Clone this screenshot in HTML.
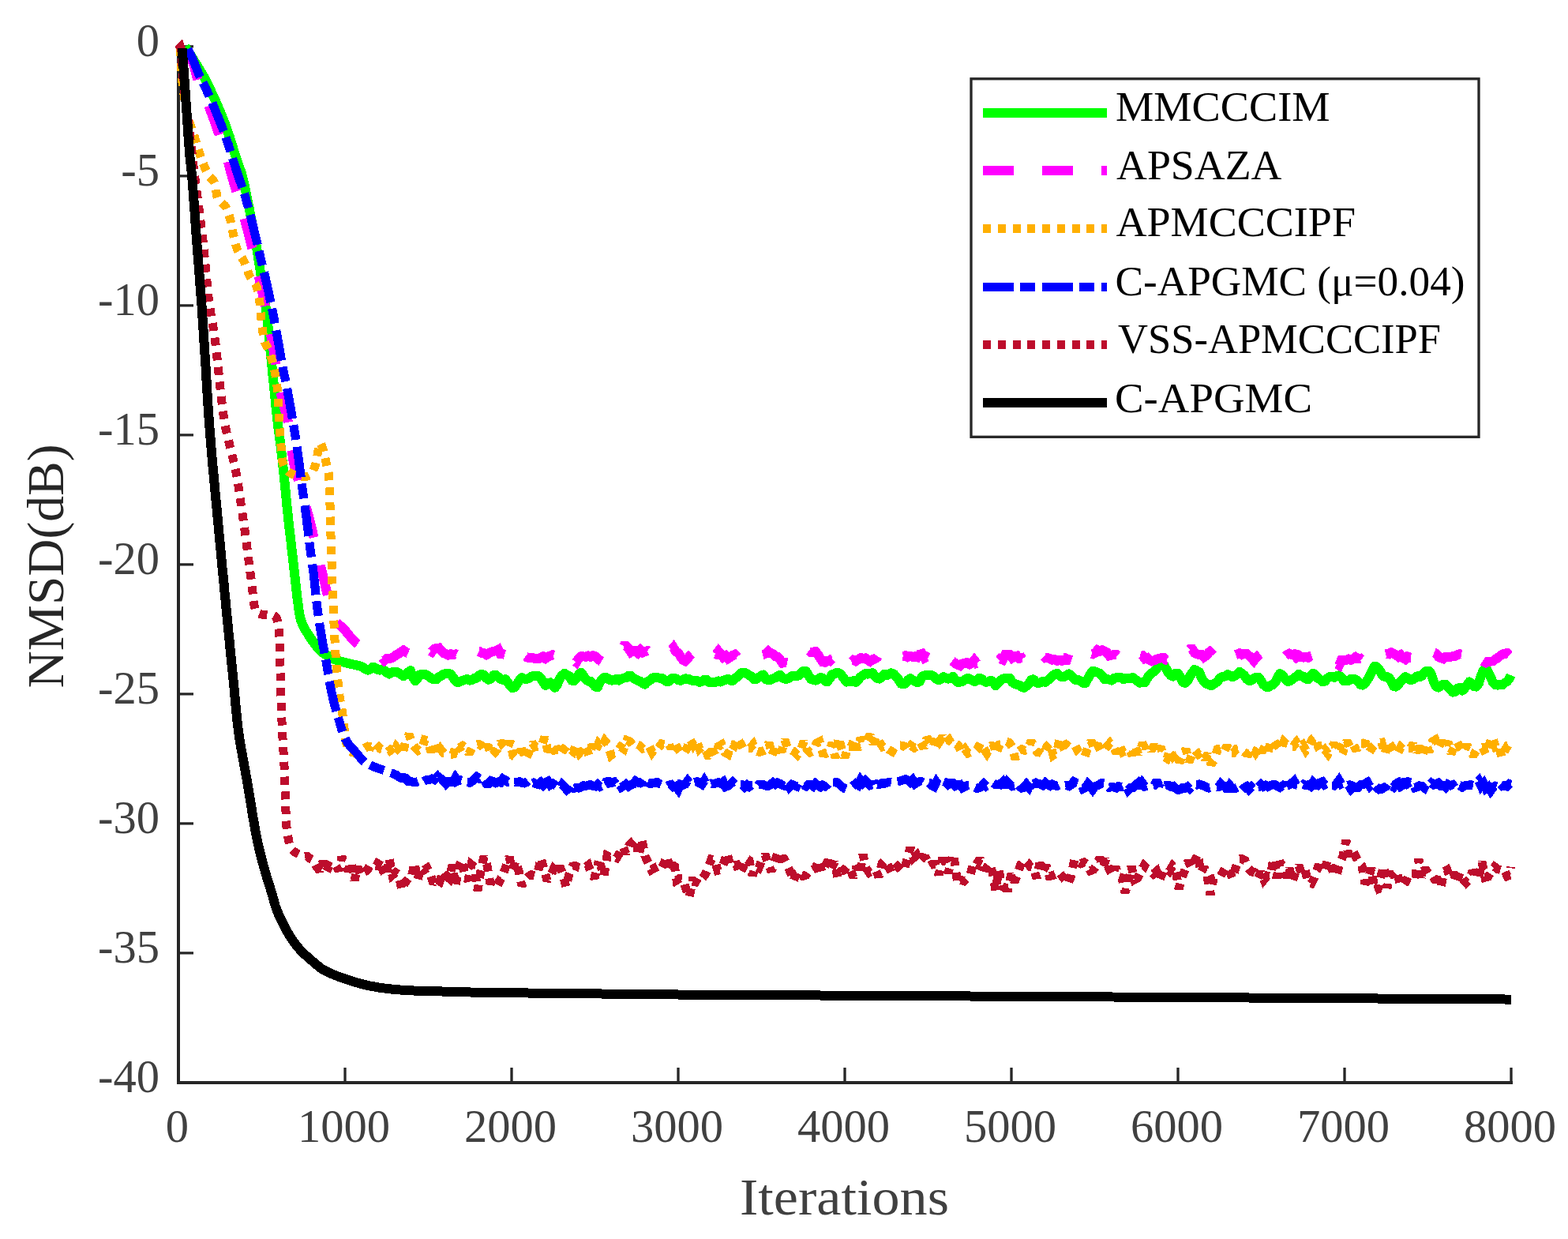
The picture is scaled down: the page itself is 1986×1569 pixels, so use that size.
<!DOCTYPE html>
<html><head><meta charset="utf-8"><title>NMSD vs Iterations</title>
<style>html,body{margin:0;padding:0;background:#fff;}svg{display:block;}</style>
</head><body>
<svg width="1986" height="1569" viewBox="0 0 1986 1569">
<rect width="1986" height="1569" fill="#fff"/>
<path d="M226 57V1371H1916" fill="none" stroke="#262626" stroke-width="4"/>
<path d="M228 58.9H245 M228 222.9H245 M228 386.9H245 M228 550.9H245 M228 714.9H245 M228 878.9H245 M228 1042.9H245 M228 1206.9H245 M228 1370.9H245 M226.0 1369V1352 M437.0 1369V1352 M648.0 1369V1352 M859.0 1369V1352 M1070.0 1369V1352 M1281.0 1369V1352 M1492.0 1369V1352 M1703.0 1369V1352 M1914.0 1369V1352" fill="none" stroke="#262626" stroke-width="3.3"/>
<path d="M234.56 59.0 235.4 60.3 236.2 61.58 237.0 62.8 237.9 64.0 238.7 65.3 239.6 66.6 240.56 68.0 241.3 69.2 242.0 70.4 242.7 71.58 243.4 72.7 244.2 74.0 245.0 75.4 245.9 76.9 247.0 78.7 247.7 79.8 248.4 81.0 249.2 82.2 250.0 83.60 250.8 84.9 251.7 86.3 252.6 87.7 253.4 89.2 254.3 90.6 255.2 92.1 256.1 93.61 256.9 95.0 257.7 96.4 258.56 97.8 259.2 99.2 260.0 100.60 260.7 101.9 261.4 103.3 262.1 104.7 262.8 106.0 263.4 107.4 264.1 108.8 264.8 110.2 265.4 111.59 266.1 112.9 266.7 114.3 267.4 115.6 268.0 117.0 268.7 118.53 269.4 119.9 270.1 121.4 270.7 122.9 271.4 124.3 272.1 125.8 272.7 127.2 273.4 128.7 274.0 130.2 274.7 131.6 275.3 133.1 276.0 134.60 276.6 136.0 277.2 137.52 277.8 138.9 278.52 140.4 279.1 141.8 279.7 143.3 280.3 144.8 280.9 146.2 281.51 147.7 282.0 149.2 282.6 150.6 283.2 152.1 283.7 153.60 284.3 155.0 284.9 156.52 285.4 157.9 285.9 159.4 286.52 160.8 287.0 162.3 287.56 163.7 288.0 165.2 288.58 166.7 289.0 168.1 289.58 169.6 290.0 171.1 290.57 172.59 291.0 174.0 291.55 175.55 292.0 177.0 292.4 178.57 292.9 180.0 293.4 181.6 293.8 183.1 294.3 184.6 294.8 186.1 295.2 187.6 295.7 189.1 296.1 190.6 296.6 192.0 297.0 193.4 297.58 195.0 298.0 196.6 298.60 198.1 299.0 199.6 299.61 201.1 300.0 202.6 300.60 204.1 301.0 205.6 301.58 207.0 302.0 208.57 302.56 210.0 303.0 211.4 303.4 212.7 303.9 213.9 304.3 215.1 304.8 216.3 305.2 217.60 305.7 218.9 306.2 220.4 306.7 222.2 307.2 224.2 307.8 226.56 308.1 227.6 308.3 228.7 308.6 229.9 308.9 231.2 309.2 232.54 309.53 233.8 309.8 235.2 310.1 236.7 310.4 238.1 310.7 239.6 311.0 241.1 311.3 242.7 311.7 244.2 312.0 245.8 312.3 247.4 312.6 249.0 313.0 250.6 313.3 252.2 313.6 253.8 313.9 255.4 314.3 257.0 314.6 258.6 314.9 260.2 315.2 261.7 315.56 263.2 315.8 264.7 316.1 266.2 316.4 267.6 316.7 269.1 317.0 270.6 317.3 272.1 317.6 273.59 317.9 275.0 318.2 276.54 318.51 278.0 318.7 279.4 319.0 280.9 319.3 282.4 319.6 283.9 319.9 285.3 320.2 286.8 320.53 288.3 320.8 289.7 321.0 291.2 321.3 292.7 321.6 294.2 321.9 295.6 322.1 297.1 322.4 298.6 322.7 300.1 322.9 301.59 323.2 303.0 323.53 304.59 323.7 306.1 324.0 307.6 324.3 309.1 324.58 310.6 324.8 312.2 325.0 313.7 325.3 315.2 325.60 316.8 325.8 318.3 326.0 319.8 326.3 321.3 326.58 322.9 326.8 324.4 327.0 325.9 327.2 327.51 327.55 329.0 327.7 330.57 328.0 332.0 328.2 333.6 328.4 335.1 328.7 336.6 328.9 338.1 329.2 339.7 329.4 341.2 329.6 342.7 329.9 344.3 330.1 345.8 330.4 347.3 330.6 348.8 330.8 350.4 331.1 351.9 331.3 353.4 331.6 354.9 331.8 356.54 332.0 358.0 332.3 359.59 332.56 361.1 332.7 362.6 333.0 364.1 333.2 365.6 333.4 367.2 333.7 368.7 333.9 370.2 334.1 371.8 334.3 373.3 334.6 374.8 334.8 376.3 335.0 377.9 335.2 379.4 335.4 380.9 335.6 382.54 335.8 384.0 336.0 385.6 336.3 387.1 336.52 388.7 336.7 390.3 336.9 391.9 337.1 393.4 337.3 395.0 337.54 396.6 337.7 398.1 337.9 399.7 338.1 401.3 338.3 402.8 338.4 404.4 338.6 405.9 338.8 407.4 339.0 408.9 339.2 410.4 339.3 411.9 339.57 413.4 339.7 414.8 339.8 416.3 340.0 417.7 340.2 419.4 340.4 421.0 340.57 422.6 340.7 424.1 340.8 425.6 341.0 427.1 341.1 428.6 341.2 430.1 341.4 431.6 341.55 433.0 341.6 434.53 341.7 435.9 341.9 437.4 342.0 438.9 342.1 440.4 342.3 441.9 342.4 443.52 342.59 445.0 342.7 446.6 342.8 448.3 343.0 450.0 343.1 451.4 343.3 452.8 343.4 454.3 343.6 455.7 343.7 457.2 343.9 458.7 344.0 460.2 344.2 461.7 344.3 463.3 344.53 464.8 344.6 466.4 344.8 467.9 344.9 469.58 345.1 471.1 345.3 472.7 345.4 474.3 345.6 475.9 345.7 477.4 345.9 479.0 346.1 480.6 346.2 482.2 346.4 483.8 346.59 485.3 346.7 486.9 346.8 488.52 347.0 490.0 347.2 491.60 347.3 493.1 347.52 494.6 347.6 496.2 347.8 497.8 347.9 499.3 348.1 500.9 348.2 502.53 348.4 504.0 348.58 505.6 348.7 507.2 348.8 508.7 349.0 510.3 349.1 511.9 349.3 513.4 349.4 515.0 349.6 516.58 349.7 518.1 349.9 519.6 350.0 521.1 350.2 522.6 350.4 524.1 350.58 525.6 350.7 527.1 350.8 528.6 351.0 530.0 351.2 531.6 351.4 533.2 351.6 534.8 351.8 536.4 352.0 537.9 352.2 539.52 352.3 541.0 352.61 542.56 352.7 544.0 352.9 545.57 353.1 547.0 353.4 548.55 353.6 550.0 353.8 551.52 354.0 552.9 354.2 554.4 354.3 555.9 354.61 557.4 354.7 558.9 354.9 560.4 355.1 561.9 355.3 563.52 355.56 565.0 355.7 566.53 355.8 567.9 356.0 569.4 356.2 570.8 356.3 572.2 356.57 573.6 356.7 575.0 356.8 576.4 357.0 577.8 357.2 579.2 357.3 580.6 357.53 582.1 357.6 583.56 357.8 585.0 357.9 586.4 358.1 587.9 358.3 589.4 358.4 591.0 358.6 592.6 358.8 594.2 359.0 595.8 359.1 597.57 359.3 599.2 359.56 601.0 359.6 602.3 359.8 603.6 359.9 605.0 360.0 606.4 360.2 607.7 360.3 609.1 360.53 610.6 360.6 612.0 360.8 613.4 360.9 614.9 361.0 616.4 361.2 617.9 361.3 619.4 361.53 620.9 361.6 622.4 361.8 623.9 361.9 625.52 362.1 627.0 362.2 628.6 362.4 630.1 362.59 631.7 362.7 633.3 362.8 634.9 363.0 636.54 363.2 638.1 363.3 639.7 363.55 641.3 363.7 642.9 363.8 644.58 364.0 646.1 364.2 647.8 364.3 649.4 364.56 651.0 364.7 652.4 364.8 653.8 365.0 655.3 365.1 656.7 365.3 658.2 365.4 659.6 365.6 661.1 365.8 662.60 365.9 664.0 366.1 665.56 366.3 667.0 366.4 668.54 366.6 670.0 366.8 671.55 367.0 673.0 367.1 674.57 367.3 676.0 367.54 677.60 367.7 679.1 367.8 680.6 368.0 682.1 368.2 683.6 368.4 685.2 368.60 686.7 368.7 688.2 368.9 689.8 369.1 691.3 369.3 692.8 369.4 694.4 369.6 695.9 369.8 697.4 370.0 698.9 370.1 700.4 370.3 702.0 370.54 703.54 370.7 705.0 370.8 706.56 371.0 708.0 371.2 709.57 371.3 711.0 371.58 712.6 371.7 714.2 371.9 715.8 372.0 717.4 372.2 719.0 372.4 720.6 372.6 722.2 372.8 723.9 372.9 725.57 373.1 727.2 373.3 728.8 373.54 730.52 373.7 732.1 373.8 733.7 374.0 735.4 374.2 737.0 374.4 738.6 374.6 740.2 374.7 741.8 374.9 743.4 375.1 745.0 375.3 746.56 375.4 748.0 375.6 749.57 375.8 751.0 375.9 752.4 376.1 753.8 376.3 755.2 376.4 756.6 376.6 757.9 376.7 759.2 376.9 760.4 377.1 761.6 377.2 762.8 377.4 763.9 377.56 765.0 377.8 767.59 378.2 769.8 378.4 771.9 378.7 773.7 378.9 775.4 379.2 776.9 379.4 778.3 379.7 779.6 379.9 780.8 380.2 782.0 380.52 783.1 380.8 784.3 381.1 785.4 381.60 786.7 382.0 788.0 382.6 789.6 383.2 791.1 383.9 792.58 384.6 793.9 385.3 795.3 386.1 796.7 386.9 798.0 387.7 799.4 388.6 800.7 389.4 802.0 390.3 803.3 391.1 804.7 392.0 806.0 392.8 807.3 393.7 808.6 394.61 809.9 395.4 811.2 396.4 812.57 397.3 813.8 398.2 815.1 399.1 816.4 400.1 817.6 401.0 818.8 401.9 820.0 402.8 821.1 403.7 822.1 404.6 823.0 405.9 824.3 407.2 825.4 408.4 826.4 409.6 827.3 410.9 828.1 412.1 828.8 413.4 829.59 414.7 830.2 416.0 831.0 417.3 831.8 418.6 832.53 419.9 833.1 421.2 833.8 422.6 834.4 424.0 835.1 425.6 835.7 427.4 836.3 429.4 837.0 430.6 837.4 431.9 837.8 433.3 838.1 434.8 838.56 436.3 838.9 437.8 839.2 439.4 839.6 441.0 840.0 442.6 840.4 444.3 840.8 445.9 841.1 447.6 841.56 449.2 841.9 450.8 842.2 452.4 842.6 454.0 843.0 457.0 843.7 460.0 845.2 463.0 847.4 466.0 848.61 469.0 847.61 472.0 844.6 475.0 845.4 478.0 847.8 481.0 848.57 484.0 847.58 487.0 849.1 490.0 851.7 493.0 853.57 496.0 851.52 499.0 850.8 502.0 850.9 505.0 852.2 508.0 854.0 511.0 856.3 514.0 853.8 517.0 851.1 520.0 849.1 523.0 857.8 526.0 862.2 529.0 858.56 532.0 854.2 535.0 854.0 538.0 853.56 541.0 855.2 544.0 857.1 547.0 859.59 550.0 860.4 553.0 860.2 556.0 857.0 559.0 855.7 562.0 853.55 565.0 853.1 568.0 853.1 571.0 853.57 574.0 858.0 577.0 862.4 580.0 864.3 583.0 862.9 586.0 861.9 589.0 860.52 592.0 860.2 595.0 861.6 598.0 860.7 601.0 858.8 604.0 858.7 607.0 855.0 610.0 853.8 613.0 854.8 616.0 858.9 619.0 860.7 622.0 859.4 625.0 855.2 628.0 854.7 631.0 857.4 634.0 860.0 637.0 860.8 640.0 860.2 643.0 863.7 646.0 868.4 649.0 871.2 652.0 870.3 655.0 865.9 658.0 861.2 661.0 858.2 664.0 859.58 667.0 860.0 670.0 858.7 673.0 856.8 676.0 856.0 679.0 855.7 682.0 856.0 685.0 858.9 688.0 863.55 691.0 868.1 694.0 866.2 697.0 864.4 700.0 868.1 703.0 870.8 706.0 866.7 709.0 859.0 712.0 855.2 715.0 852.9 718.0 854.52 721.0 856.3 724.0 861.7 727.0 862.2 730.0 859.3 733.0 854.3 736.0 851.6 739.0 855.8 742.0 860.1 745.0 862.6 748.0 862.8 751.0 866.4 754.0 869.56 757.0 870.3 760.0 863.7 763.0 859.7 766.0 857.7 769.0 858.6 772.0 860.9 775.0 861.57 778.0 861.0 781.0 859.9 784.0 861.6 787.0 859.9 790.0 858.6 793.0 858.2 796.0 855.8 799.0 855.9 802.0 858.57 805.0 860.2 808.0 861.9 811.0 862.8 814.0 865.3 817.0 866.59 820.0 863.3 823.0 861.58 826.0 858.8 829.0 857.9 832.0 858.0 835.0 858.6 838.0 858.6 841.0 860.7 844.0 862.9 847.0 862.9 850.0 859.7 853.0 858.54 856.0 859.4 859.0 861.1 862.0 861.8 865.0 860.6 868.0 859.4 871.0 859.6 874.0 860.7 877.0 861.9 880.0 862.2 883.0 862.2 886.0 864.0 889.0 862.8 892.0 860.7 895.0 860.8 898.0 863.8 901.0 863.6 904.0 863.7 907.0 863.6 910.0 862.4 913.0 863.55 916.0 861.9 919.0 860.7 922.0 859.9 925.0 861.53 928.0 862.0 931.0 858.9 934.0 857.6 937.0 853.6 940.0 851.8 943.0 851.7 946.0 853.0 949.0 855.1 952.0 857.0 955.0 860.1 958.0 859.8 961.0 857.8 964.0 855.7 967.0 854.6 970.0 860.1 973.0 861.4 976.0 860.9 979.0 859.4 982.0 858.2 985.0 856.2 988.0 854.8 991.0 858.60 994.0 859.6 997.0 859.6 1000.0 858.2 1003.0 856.0 1006.0 856.1 1009.0 856.2 1012.0 855.3 1015.0 851.6 1018.0 849.6 1021.0 850.2 1024.0 855.0 1027.0 859.9 1030.0 860.8 1033.0 861.57 1036.0 860.1 1039.0 858.0 1042.0 858.59 1045.0 862.6 1048.0 863.1 1051.0 859.2 1054.0 853.9 1057.0 853.4 1060.0 851.8 1063.0 852.3 1066.0 855.3 1069.0 859.1 1072.0 863.6 1075.0 863.3 1078.0 863.4 1081.0 862.3 1084.0 863.9 1087.0 861.0 1090.0 857.2 1093.0 855.1 1096.0 853.2 1099.0 853.6 1102.0 853.1 1105.0 852.1 1108.0 856.3 1111.0 858.8 1114.0 859.6 1117.0 857.2 1120.0 853.8 1123.0 855.4 1126.0 853.7 1129.0 852.3 1132.0 853.4 1135.0 856.9 1138.0 860.2 1141.0 865.7 1144.0 866.4 1147.0 865.6 1150.0 861.2 1153.0 859.0 1156.0 861.3 1159.0 862.7 1162.0 864.3 1165.0 862.8 1168.0 856.7 1171.0 855.4 1174.0 855.2 1177.0 855.0 1180.0 855.1 1183.0 857.0 1186.0 860.0 1189.0 861.3 1192.0 859.7 1195.0 857.2 1198.0 858.6 1201.0 859.7 1204.0 858.8 1207.0 856.8 1210.0 861.3 1213.0 864.0 1216.0 863.6 1219.0 862.7 1222.0 860.8 1225.0 859.1 1228.0 859.4 1231.0 861.3 1234.0 863.1 1237.0 862.1 1240.0 858.8 1243.0 859.4 1246.0 862.6 1249.0 863.9 1252.0 863.1 1255.0 861.7 1258.0 863.6 1261.0 868.2 1264.0 865.56 1267.0 862.3 1270.0 859.60 1273.0 859.1 1276.0 858.58 1279.0 858.7 1282.0 863.9 1285.0 865.7 1288.0 867.0 1291.0 867.54 1294.0 870.0 1297.0 871.0 1300.0 868.9 1303.0 866.1 1306.0 861.1 1309.0 860.3 1312.0 863.59 1315.0 865.4 1318.0 864.3 1321.0 862.6 1324.0 863.9 1327.0 861.6 1330.0 859.4 1333.0 855.8 1336.0 853.9 1339.0 852.9 1342.0 855.4 1345.0 857.4 1348.0 856.8 1351.0 855.1 1354.0 853.4 1357.0 856.2 1360.0 859.2 1363.0 861.4 1366.0 861.0 1369.0 862.6 1372.0 865.0 1375.0 865.0 1378.0 859.1 1381.0 853.6 1384.0 849.6 1387.0 850.6 1390.0 851.6 1393.0 852.9 1396.0 855.6 1399.0 860.4 1402.0 860.2 1405.0 860.61 1408.0 861.6 1411.0 858.9 1414.0 858.2 1417.0 858.3 1420.0 858.1 1423.0 860.2 1426.0 859.1 1429.0 858.56 1432.0 858.55 1435.0 858.1 1438.0 860.55 1441.0 862.9 1444.0 864.7 1447.0 863.6 1450.0 864.3 1453.0 859.0 1456.0 854.53 1459.0 852.2 1462.0 850.3 1465.0 846.6 1468.0 842.2 1471.0 840.1 1474.0 841.51 1477.0 846.8 1480.0 852.2 1483.0 855.6 1486.0 856.59 1489.0 852.7 1492.0 852.8 1495.0 857.0 1498.0 863.7 1501.0 864.9 1504.0 862.4 1507.0 856.6 1510.0 851.9 1513.0 848.0 1516.0 849.4 1519.0 851.2 1522.0 858.7 1525.0 863.4 1528.0 865.9 1531.0 866.6 1534.0 868.4 1537.0 866.4 1540.0 864.6 1543.0 861.6 1546.0 858.2 1549.0 856.8 1552.0 856.4 1555.0 854.3 1558.0 855.7 1561.0 857.3 1564.0 856.0 1567.0 853.9 1570.0 850.8 1573.0 853.0 1576.0 855.1 1579.0 859.7 1582.0 861.8 1585.0 861.6 1588.0 859.0 1591.0 857.6 1594.0 857.7 1597.0 861.54 1600.0 866.7 1603.0 869.3 1606.0 870.4 1609.0 868.3 1612.0 867.3 1615.0 864.4 1618.0 858.0 1621.0 853.3 1624.0 854.7 1627.0 858.61 1630.0 862.6 1633.0 862.7 1636.0 861.0 1639.0 858.6 1642.0 856.6 1645.0 853.7 1648.0 856.2 1651.0 856.9 1654.0 859.53 1657.0 860.3 1660.0 856.1 1663.0 852.6 1666.0 854.6 1669.0 858.9 1672.0 860.4 1675.0 863.1 1678.0 862.8 1681.0 859.3 1684.0 857.2 1687.0 857.0 1690.0 857.9 1693.0 856.0 1696.0 855.4 1699.0 857.7 1702.0 862.4 1705.0 862.1 1708.0 862.1 1711.0 859.7 1714.0 860.2 1717.0 860.4 1720.0 863.0 1723.0 866.7 1726.0 867.59 1729.0 865.4 1732.0 860.9 1735.0 855.9 1738.0 849.4 1741.0 843.7 1744.0 844.60 1747.0 848.0 1750.0 853.60 1753.0 856.8 1756.0 856.9 1759.0 857.9 1762.0 862.53 1765.0 868.9 1768.0 869.6 1771.0 867.0 1774.0 862.6 1777.0 859.6 1780.0 857.2 1783.0 858.59 1786.0 860.8 1789.0 860.7 1792.0 858.9 1795.0 856.3 1798.0 857.1 1801.0 855.7 1804.0 851.6 1807.0 849.8 1810.0 849.6 1813.0 854.0 1816.0 863.2 1819.0 869.3 1822.0 870.6 1825.0 868.3 1828.0 866.9 1831.0 866.9 1834.0 870.3 1837.0 873.2 1840.0 876.6 1843.0 875.8 1846.0 871.7 1849.0 871.0 1852.0 874.6 1855.0 871.6 1858.0 868.1 1861.0 863.4 1864.0 865.9 1867.0 869.3 1870.0 869.6 1873.0 865.2 1876.0 855.4 1879.0 848.6 1882.0 846.0 1885.0 851.2 1888.0 857.1 1891.0 864.4 1894.0 867.3 1897.0 867.6 1900.0 866.59 1903.0 867.3 1906.0 864.58 1909.0 862.9 1912.0 858.8 1913.56 855.0" fill="none" stroke="#00ff00" stroke-width="12" stroke-linejoin="round" shape-rendering="crispEdges"/>
<path d="M238.0 64.0 238.6 65.4 239.2 66.8 239.8 68.2 240.56 70.0 241.0 71.1 241.56 72.2 242.0 73.4 242.6 74.7 243.2 76.2 243.9 77.9 244.6 80.0 245.0 81.2 245.4 82.58 245.8 84.0 246.2 85.54 246.6 87.1 247.1 88.7 247.57 90.4 248.0 92.1 248.4 93.8 248.9 95.53 249.3 97.1 249.8 98.7 250.3 100.2 250.7 101.6 251.3 103.3 251.8 104.9 252.4 106.4 252.9 107.9 253.53 109.4 254.0 110.8 254.6 112.2 255.2 113.6 255.8 115.1 256.4 116.57 257.0 118.0 257.6 119.3 258.1 120.6 258.7 121.8 259.3 122.9 259.8 124.1 260.4 125.3 261.1 126.6 261.7 127.9 262.4 129.4 263.1 131.1 263.9 132.9 264.7 135.0 265.1 136.1 265.6 137.3 266.0 138.56 266.59 139.8 267.0 141.2 267.6 142.6 268.1 144.0 268.6 145.61 269.2 147.1 269.7 148.6 270.3 150.2 270.9 151.8 271.51 153.4 272.0 155.0 272.6 156.6 273.1 158.1 273.7 159.7 274.2 161.2 274.8 162.7 275.3 164.1 275.8 165.58 276.3 166.9 276.7 168.1 277.2 169.4 277.6 170.56 278.3 172.55 279.0 174.3 279.7 175.9 280.3 177.3 280.8 178.7 281.3 179.9 281.9 181.2 282.4 182.4 282.9 183.7 283.4 185.1 283.9 186.60 284.4 188.2 285.0 190.0 285.4 191.2 285.7 192.3 286.0 193.4 286.3 194.59 286.6 195.6 286.9 196.7 287.1 197.8 287.4 199.0 287.7 200.2 288.0 201.4 288.3 202.7 288.6 204.0 289.0 205.4 289.3 206.9 289.7 208.60 290.2 210.2 290.7 212.1 291.2 214.0 291.7 216.1 292.3 218.3 293.0 220.7 293.3 221.8 293.6 222.8 293.9 223.9 294.3 225.1 294.6 226.3 294.9 227.53 295.3 228.7 295.7 230.0 296.0 231.2 296.4 232.6 296.8 233.9 297.2 235.2 297.6 236.6 298.0 238.0 298.52 239.4 298.9 240.9 299.3 242.3 299.8 243.8 300.2 245.3 300.6 246.8 301.1 248.3 301.60 249.8 302.0 251.3 302.52 252.9 302.9 254.4 303.4 256.0 303.8 257.6 304.3 259.1 304.8 260.7 305.2 262.3 305.7 263.9 306.2 265.55 306.6 267.1 307.1 268.7 307.6 270.3 308.0 271.9 308.54 273.51 308.9 275.0 309.4 276.6 309.8 278.2 310.3 279.8 310.7 281.3 311.1 282.9 311.6 284.4 312.0 285.9 312.4 287.52 312.8 289.0 313.2 290.52 313.6 291.9 314.0 293.4 314.4 294.9 314.8 296.4 315.2 297.9 315.6 299.3 315.9 300.8 316.3 302.3 316.7 303.8 317.1 305.3 317.52 306.8 317.8 308.3 318.2 309.8 318.6 311.3 319.0 312.8 319.3 314.3 319.7 315.8 320.1 317.3 320.4 318.8 320.8 320.3 321.2 321.8 321.58 323.3 321.9 324.8 322.2 326.3 322.6 327.8 322.9 329.3 323.3 330.8 323.7 332.3 324.0 333.8 324.4 335.3 324.7 336.8 325.0 338.3 325.4 339.7 325.7 341.2 326.1 342.7 326.4 344.2 326.7 345.7 327.1 347.1 327.4 348.6 327.8 350.1 328.1 351.61 328.4 353.0 328.7 354.53 329.1 355.9 329.4 357.4 329.7 358.8 330.0 360.3 330.4 361.7 330.7 363.1 331.0 364.6 331.3 366.0 331.6 367.61 332.0 369.1 332.3 370.6 332.6 372.2 333.0 373.7 333.3 375.3 333.6 376.8 334.0 378.3 334.3 379.8 334.6 381.4 334.9 382.9 335.2 384.4 335.61 385.9 335.9 387.4 336.2 388.9 336.54 390.4 336.8 391.9 337.1 393.4 337.4 394.9 337.7 396.4 338.0 397.9 338.3 399.4 338.6 400.9 338.9 402.4 339.2 403.9 339.52 405.4 339.8 406.8 340.0 408.3 340.3 409.8 340.6 411.2 340.9 412.7 341.2 414.2 341.51 415.6 341.7 417.1 342.0 418.6 342.3 420.0 342.6 421.52 342.8 422.9 343.1 424.4 343.4 425.8 343.6 427.2 343.9 428.7 344.2 430.1 344.4 431.6 344.7 433.0 345.0 434.6 345.3 436.2 345.61 437.7 345.8 439.3 346.1 440.9 346.4 442.56 346.6 444.1 346.9 445.7 347.2 447.3 347.4 448.9 347.7 450.4 347.9 452.0 348.2 453.6 348.4 455.2 348.7 456.8 348.9 458.3 349.2 459.9 349.4 461.54 349.6 463.0 349.9 464.6 350.1 466.1 350.4 467.7 350.6 469.2 350.8 470.8 351.1 472.3 351.3 473.8 351.6 475.3 351.8 476.8 352.0 478.2 352.3 479.7 352.57 481.2 352.8 482.6 353.0 484.1 353.2 485.53 353.54 486.9 353.7 488.3 354.0 489.6 354.2 491.0 354.55 492.4 354.7 493.7 355.0 495.0 355.4 496.8 355.7 498.55 356.1 500.2 356.53 501.8 356.9 503.53 357.2 505.1 357.6 506.6 358.0 508.2 358.4 509.7 358.8 511.2 359.2 512.7 359.6 514.2 360.0 515.6 360.4 517.1 360.8 518.56 361.2 519.9 361.60 521.3 361.9 522.7 362.3 524.2 362.7 525.6 363.0 527.0 363.4 528.4 363.8 529.8 364.1 531.2 364.4 532.6 364.8 534.1 365.1 535.60 365.4 537.0 365.7 538.55 366.0 540.0 366.3 541.58 366.59 543.1 366.8 544.6 367.0 546.1 367.2 547.7 367.4 549.2 367.6 550.8 367.8 552.4 368.0 553.9 368.2 555.58 368.4 557.1 368.58 558.7 368.7 560.2 368.8 561.8 369.0 563.4 369.2 564.9 369.3 566.56 369.54 568.1 369.6 569.6 369.8 571.1 370.0 572.7 370.2 574.2 370.4 575.7 370.6 577.2 370.8 578.7 371.0 580.2 371.2 581.7 371.53 583.1 371.7 584.6 372.0 586.0 372.3 587.6 372.7 589.1 373.0 590.7 373.4 592.2 373.7 593.7 374.1 595.2 374.58 596.7 374.9 598.1 375.3 599.6 375.8 601.0 376.2 602.55 376.6 603.9 377.0 605.4 377.53 606.8 377.9 608.2 378.3 609.6 378.8 611.0 379.2 612.4 379.7 613.8 380.1 615.2 380.59 616.6 381.0 618.0 381.4 619.4 381.8 620.8 382.2 622.2 382.6 623.6 383.0 625.0 383.4 626.55 383.8 627.9 384.2 629.3 384.6 630.7 385.0 632.0 385.3 633.3 385.7 634.6 386.0 635.9 386.4 637.1 386.8 638.4 387.1 639.7 387.54 641.0 387.8 642.3 388.2 643.6 388.6 645.0 389.0 646.4 389.4 647.9 389.8 649.4 390.2 650.9 390.6 652.6 391.0 654.3 391.56 656.1 392.0 658.0 392.54 659.9 393.0 662.0 393.3 663.1 393.6 664.3 393.9 665.61 394.2 666.8 394.56 668.1 394.8 669.4 395.1 670.7 395.54 672.1 395.8 673.57 396.2 674.9 396.56 676.4 396.8 677.8 397.2 679.3 397.6 680.8 397.9 682.3 398.3 683.9 398.7 685.4 399.0 687.0 399.4 688.6 399.8 690.2 400.1 691.7 400.59 693.3 400.9 694.9 401.3 696.6 401.7 698.2 402.0 699.8 402.4 701.4 402.8 703.0 403.2 704.6 403.6 706.2 403.9 707.8 404.3 709.3 404.7 710.9 405.0 712.54 405.4 714.0 405.8 715.6 406.1 717.1 406.55 718.6 406.8 720.0 407.2 721.56 407.60 722.9 407.9 724.3 408.2 725.7 408.61 727.1 408.9 728.4 409.2 729.7 409.56 731.0 409.9 732.8 410.4 734.6 410.8 736.3 411.2 738.1 411.6 739.8 412.0 741.6 412.4 743.3 412.8 745.0 413.2 746.7 413.59 748.3 413.9 750.0 414.3 751.6 414.6 753.3 415.0 754.9 415.4 756.4 415.7 758.0 416.1 759.57 416.4 761.0 416.8 762.56 417.2 764.0 417.57 765.4 417.9 766.8 418.2 768.1 418.6 769.55 419.0 770.8 419.3 772.1 419.7 773.3 420.1 774.58 420.4 775.7 420.8 776.8 421.2 777.9 421.6 779.0 422.0 780.0 423.0 782.2 423.9 784.1 424.9 785.8 425.9 787.2 426.9 788.57 427.9 789.6 429.0 790.6 430.0 791.59 431.0 792.4 432.0 793.2 433.0 794.1 434.0 795.0 435.0 795.9 436.0 797.0 437.0 798.2 438.1 799.55 439.1 800.7 440.1 802.0 441.2 803.2 442.2 804.52 443.2 805.7 444.2 806.8 445.2 808.0 446.2 809.1 447.1 810.1 448.1 811.1 449.0 812.0 450.3 813.2 451.6 814.3 452.8 815.3 454.0 816.1 455.2 817.0 456.3 817.7 457.59 818.55 458.7 819.2 460.0 820.0 461.51 820.8 462.9 821.6 464.4 822.4 465.9 823.1 467.52 823.8 469.0 824.61 470.55 825.3 472.0 826.0 475.0 826.8 478.0 828.9 481.0 830.9 484.0 832.6 487.0 836.3 490.0 833.9 493.0 834.0 496.0 833.1 499.0 831.6 502.0 829.0 505.0 827.7 508.0 825.6 511.0 823.6 514.0 825.8 517.0 827.1 520.0 828.7 523.0 830.3 526.0 829.1 529.0 830.1 532.0 828.9 535.0 823.7 538.0 827.2 541.0 826.7 544.0 823.53 547.0 825.4 550.0 821.9 553.0 820.8 556.0 820.52 559.0 824.4 562.0 827.2 565.0 828.1 568.0 829.57 571.0 828.3 574.0 828.8 577.0 828.4 580.0 829.8 583.0 827.8 586.0 827.1 589.0 825.6 592.0 824.1 595.0 825.4 598.0 827.6 601.0 821.53 604.0 824.6 607.0 825.0 610.0 826.9 613.0 827.1 616.0 829.1 619.0 827.59 622.0 825.57 625.0 824.9 628.0 824.2 631.0 822.60 634.0 828.3 637.0 828.3 640.0 829.2 643.0 831.7 646.0 829.6 649.0 825.6 652.0 827.3 655.0 822.7 658.0 824.7 661.0 826.51 664.0 830.2 667.0 832.3 670.0 833.0 673.0 833.0 676.0 833.4 679.0 834.4 682.0 834.3 685.0 832.52 688.0 831.3 691.0 833.8 694.0 831.7 697.0 830.52 700.0 829.3 703.0 830.4 706.0 831.3 709.0 833.6 712.0 834.0 715.0 831.9 718.0 827.9 721.0 830.1 724.0 834.7 727.0 835.9 730.0 838.59 733.0 833.7 736.0 831.3 739.0 831.4 742.0 831.7 745.0 830.59 748.0 831.7 751.0 830.1 754.0 831.1 757.0 833.8 760.0 828.7 763.0 829.3 766.0 826.8 769.0 825.60 772.0 825.4 775.0 825.4 778.0 822.59 781.0 824.1 784.0 823.59 787.0 823.0 790.0 817.9 793.0 818.1 796.0 820.8 799.0 825.7 802.0 823.7 805.0 824.1 808.0 826.8 811.0 823.3 814.0 826.4 817.0 825.3 820.0 824.2 823.0 826.7 826.0 826.9 829.0 829.0 832.0 828.8 835.0 828.57 838.0 824.1 841.0 822.7 844.0 821.8 847.0 822.7 850.0 823.8 853.0 820.2 856.0 825.1 859.0 826.7 862.0 831.6 865.0 835.59 868.0 837.2 871.0 834.2 874.0 829.58 877.0 826.7 880.0 823.9 883.0 822.4 886.0 822.7 889.0 824.1 892.0 825.0 895.0 827.8 898.0 828.4 901.0 830.8 904.0 827.57 907.0 828.6 910.0 824.6 913.0 827.9 916.0 832.4 919.0 830.6 922.0 834.1 925.0 832.3 928.0 829.8 931.0 828.7 934.0 831.59 937.0 835.0 940.0 835.9 943.0 833.8 946.0 832.9 949.0 832.1 952.0 833.0 955.0 831.3 958.0 831.1 961.0 831.9 964.0 829.51 967.0 828.8 970.0 827.6 973.0 824.6 976.0 827.3 979.0 828.3 982.0 831.4 985.0 831.7 988.0 835.3 991.0 839.54 994.0 838.9 997.0 839.51 1000.0 835.8 1003.0 836.9 1006.0 835.57 1009.0 836.0 1012.0 833.6 1015.0 833.3 1018.0 831.6 1021.0 828.4 1024.0 823.3 1027.0 826.0 1030.0 825.6 1033.0 825.2 1036.0 828.6 1039.0 834.0 1042.0 838.3 1045.0 838.7 1048.0 836.8 1051.0 837.4 1054.0 834.4 1057.0 833.9 1060.0 826.3 1063.0 830.8 1066.0 832.3 1069.0 834.3 1072.0 838.9 1075.0 837.6 1078.0 838.2 1081.0 835.9 1084.0 837.2 1087.0 835.2 1090.0 833.1 1093.0 833.7 1096.0 833.4 1099.0 836.0 1102.0 837.56 1105.0 835.3 1108.0 834.4 1111.0 832.52 1114.0 827.1 1117.0 827.1 1120.0 826.0 1123.0 827.6 1126.0 829.0 1129.0 829.4 1132.0 831.4 1135.0 831.0 1138.0 831.4 1141.0 830.6 1144.0 831.0 1147.0 830.2 1150.0 832.0 1153.0 830.8 1156.0 831.9 1159.0 831.3 1162.0 832.3 1165.0 828.6 1168.0 827.8 1171.0 833.2 1174.0 831.7 1177.0 833.1 1180.0 833.4 1183.0 834.2 1186.0 839.2 1189.0 839.61 1192.0 837.54 1195.0 836.2 1198.0 833.60 1201.0 834.9 1204.0 835.6 1207.0 837.8 1210.0 840.1 1213.0 841.8 1216.0 843.0 1219.0 840.4 1222.0 839.7 1225.0 839.1 1228.0 841.2 1231.0 839.9 1234.0 836.1 1237.0 840.0 1240.0 839.2 1243.0 837.9 1246.0 837.1 1249.0 834.52 1252.0 830.0 1255.0 833.8 1258.0 834.4 1261.0 835.9 1264.0 837.9 1267.0 834.4 1270.0 835.57 1273.0 829.2 1276.0 829.1 1279.0 829.1 1282.0 833.1 1285.0 831.0 1288.0 830.53 1291.0 833.9 1294.0 833.2 1297.0 837.8 1300.0 835.7 1303.0 834.9 1306.0 835.9 1309.0 832.7 1312.0 832.9 1315.0 829.4 1318.0 833.2 1321.0 830.4 1324.0 833.4 1327.0 833.2 1330.0 834.0 1333.0 835.6 1336.0 835.3 1339.0 836.8 1342.0 835.8 1345.0 836.7 1348.0 835.4 1351.0 835.6 1354.0 826.9 1357.0 827.1 1360.0 824.9 1363.0 827.1 1366.0 828.3 1369.0 832.1 1372.0 829.6 1375.0 829.3 1378.0 829.9 1381.0 827.3 1384.0 828.3 1387.0 827.0 1390.0 823.3 1393.0 824.7 1396.0 823.1 1399.0 824.7 1402.0 826.1 1405.0 830.4 1408.0 829.6 1411.0 829.1 1414.0 828.9 1417.0 831.4 1420.0 827.9 1423.0 830.3 1426.0 831.1 1429.0 828.6 1432.0 830.9 1435.0 832.2 1438.0 830.1 1441.0 827.4 1444.0 829.1 1447.0 830.0 1450.0 834.1 1453.0 833.1 1456.0 835.8 1459.0 837.2 1462.0 836.1 1465.0 834.8 1468.0 833.7 1471.0 833.3 1474.0 833.2 1477.0 835.7 1480.0 835.0 1483.0 835.0 1486.0 835.1 1489.0 836.60 1492.0 837.4 1495.0 834.1 1498.0 832.8 1501.0 829.3 1504.0 825.2 1507.0 822.1 1510.0 821.9 1513.0 826.7 1516.0 828.2 1519.0 829.2 1522.0 829.0 1525.0 832.3 1528.0 830.3 1531.0 826.3 1534.0 824.2 1537.0 821.1 1540.0 825.4 1543.0 824.2 1546.0 829.1 1549.0 830.3 1552.0 830.0 1555.0 832.1 1558.0 829.4 1561.0 829.9 1564.0 829.51 1567.0 828.4 1570.0 827.3 1573.0 829.0 1576.0 827.7 1579.0 828.0 1582.0 830.4 1585.0 833.1 1588.0 836.60 1591.0 832.52 1594.0 830.1 1597.0 827.8 1600.0 827.0 1603.0 825.7 1606.0 828.2 1609.0 828.2 1612.0 828.1 1615.0 829.4 1618.0 832.7 1621.0 833.4 1624.0 831.8 1627.0 831.9 1630.0 829.3 1633.0 827.6 1636.0 828.8 1639.0 828.4 1642.0 832.3 1645.0 829.9 1648.0 832.1 1651.0 832.6 1654.0 831.8 1657.0 832.9 1660.0 830.8 1663.0 829.9 1666.0 831.1 1669.0 831.1 1672.0 834.4 1675.0 835.3 1678.0 837.7 1681.0 839.2 1684.0 840.9 1687.0 842.0 1690.0 841.7 1693.0 840.8 1696.0 842.6 1699.0 835.7 1702.0 835.8 1705.0 836.0 1708.0 834.7 1711.0 835.9 1714.0 834.52 1717.0 832.1 1720.0 834.2 1723.0 833.7 1726.0 836.1 1729.0 834.1 1732.0 828.9 1735.0 828.8 1738.0 827.7 1741.0 827.2 1744.0 829.58 1747.0 828.6 1750.0 829.3 1753.0 828.8 1756.0 828.1 1759.0 828.4 1762.0 826.3 1765.0 827.57 1768.0 829.1 1771.0 831.6 1774.0 829.55 1777.0 833.3 1780.0 835.0 1783.0 831.6 1786.0 832.7 1789.0 832.9 1792.0 828.3 1795.0 828.9 1798.0 827.6 1801.0 825.7 1804.0 822.3 1807.0 823.7 1810.0 822.4 1813.0 825.2 1816.0 826.52 1819.0 827.7 1822.0 831.7 1825.0 833.2 1828.0 834.1 1831.0 831.7 1834.0 831.6 1837.0 832.0 1840.0 831.0 1843.0 830.7 1846.0 829.2 1849.0 828.2 1852.0 828.7 1855.0 825.0 1858.0 829.8 1861.0 828.8 1864.0 834.2 1867.0 834.7 1870.0 833.3 1873.0 835.4 1876.0 836.0 1879.0 837.9 1882.0 839.2 1885.0 837.7 1888.0 837.54 1891.0 837.4 1894.0 834.7 1897.0 833.2 1900.0 830.6 1903.0 828.4 1906.0 827.59 1909.0 827.2 1912.0 829.8 1913.56 827.53" fill="none" stroke="#ff00ff" stroke-width="12" stroke-dasharray="39 36" stroke-linejoin="miter" stroke-miterlimit="2" shape-rendering="crispEdges"/>
<path d="M228.0 61.0 228.1 62.6 228.2 64.2 228.2 65.7 228.3 67.3 228.4 68.9 228.53 70.4 228.61 72.0 228.6 73.6 228.7 75.2 228.8 76.8 228.9 78.4 229.0 80.0 229.1 81.57 229.2 83.0 229.3 84.61 229.4 86.1 229.55 87.6 229.6 89.2 229.7 90.7 229.8 92.3 229.9 93.8 230.1 95.4 230.2 96.9 230.4 98.52 230.56 100.0 230.7 101.60 230.8 103.1 231.0 104.6 231.2 106.2 231.4 107.7 231.6 109.2 231.8 110.8 232.0 112.3 232.2 113.8 232.4 115.4 232.6 116.9 232.8 118.52 233.0 120.0 233.2 121.6 233.4 123.1 233.6 124.7 233.9 126.3 234.1 127.9 234.3 129.58 234.58 131.1 234.8 132.7 235.0 134.2 235.2 135.7 235.54 137.2 235.7 138.6 236.0 140.0 236.4 141.7 236.7 143.3 237.1 144.9 237.54 146.4 237.9 147.9 238.3 149.3 238.7 150.7 239.1 152.1 239.6 153.6 240.0 155.0 240.57 156.6 241.0 158.1 241.6 159.6 242.1 161.0 242.7 162.56 243.2 164.0 243.8 165.6 244.4 167.2 245.0 169.0 245.4 170.3 245.9 171.7 246.3 173.1 246.8 174.59 247.2 176.0 247.7 177.59 248.1 179.1 248.6 180.6 249.0 182.1 249.56 183.6 249.9 185.0 250.4 186.4 250.8 187.8 251.3 189.55 251.8 191.1 252.3 192.7 252.7 194.2 253.2 195.8 253.6 197.3 254.1 198.8 254.6 200.3 255.2 201.9 255.8 203.56 256.3 204.9 256.9 206.3 257.58 207.8 258.1 209.3 258.8 210.8 259.4 212.4 260.1 213.9 260.8 215.3 261.52 216.8 262.1 218.1 262.8 219.52 263.56 220.7 264.4 222.2 265.4 223.55 266.4 224.7 267.54 225.8 268.55 226.9 269.54 228.0 270.4 229.2 271.3 230.6 272.0 232.2 272.53 233.61 272.8 235.0 273.1 236.6 273.4 238.3 273.6 240.0 273.8 241.7 274.0 243.56 274.3 245.2 274.6 246.9 274.9 248.53 275.4 250.0 275.9 251.3 276.7 252.7 277.7 254.0 278.7 255.1 279.9 256.2 281.0 257.2 282.2 258.2 283.4 259.2 284.56 260.3 285.57 261.51 286.4 262.8 287.0 264.0 287.6 265.3 288.2 266.7 288.7 268.0 289.2 269.53 289.7 270.9 290.1 272.4 290.57 273.9 290.9 275.4 291.3 277.0 291.7 278.55 292.1 280.0 292.55 281.59 292.8 283.1 293.2 284.7 293.56 286.3 293.8 287.9 294.1 289.55 294.4 291.1 294.7 292.7 295.0 294.3 295.3 295.9 295.7 297.53 296.0 299.0 296.4 300.6 296.8 302.3 297.1 303.9 297.55 305.56 297.9 307.1 298.3 308.7 298.7 310.2 299.1 311.8 299.6 313.3 300.1 314.8 300.7 316.3 301.3 317.8 302.1 319.2 302.8 320.6 303.6 321.9 304.51 323.3 305.3 324.6 306.1 326.0 307.0 327.3 307.8 328.7 308.6 330.1 309.3 331.6 309.9 333.0 310.56 334.4 311.1 335.9 311.6 337.4 312.1 338.9 312.7 340.4 313.2 341.9 313.7 343.4 314.2 344.8 314.8 346.2 315.4 347.6 316.0 348.9 316.8 350.4 317.7 351.8 318.6 353.1 319.59 354.3 320.53 355.6 321.4 356.8 322.3 358.0 323.2 359.4 323.9 360.7 324.6 362.2 325.1 363.6 325.6 365.1 326.1 366.6 326.4 368.1 326.8 369.6 327.1 371.2 327.4 372.8 327.7 374.52 328.0 376.1 328.2 377.7 328.56 379.4 328.7 380.9 328.9 382.56 329.1 384.1 329.3 385.7 329.4 387.3 329.6 388.9 329.7 390.6 329.8 392.2 330.0 393.8 330.1 395.4 330.2 397.0 330.4 398.6 330.6 400.2 330.7 401.7 330.9 403.2 331.0 404.8 331.1 406.3 331.3 407.8 331.4 409.3 331.6 410.8 331.8 412.3 331.9 413.8 332.1 415.3 332.3 416.7 332.58 418.3 332.7 419.8 332.9 421.4 333.2 423.0 333.4 424.56 333.6 426.0 333.9 427.56 334.2 428.9 334.55 430.4 334.8 431.7 335.2 433.0 335.8 434.6 336.4 435.9 337.1 437.0 337.8 438.2 338.60 439.4 339.3 440.8 340.1 442.4 340.9 444.56 341.3 445.6 341.7 446.8 342.1 448.1 342.60 449.4 343.0 450.8 343.4 452.3 343.9 453.8 344.3 455.3 344.8 456.9 345.2 458.54 345.7 460.1 346.1 461.7 346.57 463.4 346.9 465.1 347.3 466.7 347.7 468.4 348.0 470.0 348.3 471.4 348.59 472.8 348.8 474.2 349.0 475.6 349.3 476.9 349.55 478.4 349.7 479.8 349.9 481.2 350.1 482.6 350.3 484.1 350.57 485.6 350.7 487.1 350.9 488.6 351.0 490.1 351.2 491.7 351.4 493.3 351.60 494.9 351.7 496.6 351.8 498.3 352.0 500.0 352.1 501.4 352.2 502.8 352.3 504.3 352.4 505.8 352.57 507.3 352.6 508.9 352.7 510.4 352.8 512.1 352.8 513.7 352.9 515.3 353.0 517.0 353.1 518.7 353.1 520.3 353.2 522.0 353.3 523.6 353.3 525.3 353.4 526.9 353.51 528.53 353.57 530.0 353.6 531.6 353.6 533.1 353.7 534.6 353.8 536.0 353.9 537.4 353.9 538.7 354.0 540.0 354.1 542.0 354.2 543.9 354.4 545.7 354.56 547.4 354.6 549.1 354.8 550.7 354.9 552.2 355.0 553.8 355.1 555.2 355.2 556.7 355.4 558.1 355.56 559.51 355.6 560.8 355.8 562.2 355.9 563.6 356.0 565.0 356.1 566.7 356.3 568.4 356.4 570.1 356.51 571.8 356.60 573.4 356.6 575.0 356.7 576.6 356.9 578.1 357.0 579.6 357.2 581.0 357.4 582.4 357.7 583.7 358.0 585.0 358.59 586.7 359.1 588.3 359.7 589.8 360.4 591.2 361.2 592.58 362.0 593.7 362.9 594.9 363.9 596.0 365.0 597.0 366.2 598.0 367.53 598.9 368.9 599.7 370.3 600.52 371.8 601.1 373.4 601.7 374.9 602.3 376.54 602.7 378.0 603.0 379.6 603.3 381.2 603.52 382.9 603.6 384.60 603.6 386.2 603.6 387.8 603.4 389.3 603.1 390.7 602.6 392.0 602.0 393.1 601.2 394.1 600.2 395.0 599.1 395.8 597.8 396.54 596.4 397.1 594.9 397.8 593.3 398.4 591.7 399.0 590.0 399.4 588.6 399.9 587.1 400.2 585.59 400.6 583.9 400.9 582.1 401.2 580.4 401.6 578.6 401.9 576.9 402.1 575.3 402.4 573.7 402.7 572.3 403.0 571.0 403.61 568.6 404.0 566.2 404.56 564.1 405.0 562.4 405.51 561.3 406.0 561.0 406.51 561.4 406.9 562.3 407.4 563.7 407.9 565.3 408.52 567.2 409.0 569.1 409.55 571.1 410.0 573.0 410.4 574.3 410.7 575.7 411.1 577.2 411.56 578.7 411.9 580.2 412.2 581.8 412.6 583.4 413.0 585.0 413.3 586.7 413.7 588.3 414.0 590.0 414.3 591.3 414.59 592.4 414.8 593.4 415.0 594.3 415.3 595.2 415.57 596.2 415.7 597.3 416.0 598.59 416.2 600.1 416.4 601.9 416.6 604.1 416.8 606.8 417.0 610.0 417.1 611.0 417.1 612.1 417.2 613.2 417.2 614.3 417.3 615.56 417.3 616.7 417.4 618.0 417.4 619.3 417.51 620.7 417.56 622.1 417.61 623.56 417.6 624.9 417.6 626.4 417.7 627.9 417.7 629.54 417.8 631.0 417.8 632.6 417.9 634.2 417.9 635.9 417.9 637.56 418.0 639.2 418.0 640.8 418.1 642.56 418.1 644.2 418.1 645.9 418.2 647.6 418.2 649.3 418.3 651.0 418.3 652.7 418.3 654.4 418.4 656.1 418.4 657.8 418.52 659.57 418.56 661.2 418.60 662.9 418.6 664.58 418.6 666.2 418.7 667.8 418.7 669.4 418.7 671.0 418.8 672.6 418.8 674.1 418.9 675.6 418.9 677.1 419.0 678.6 419.0 680.0 419.1 681.6 419.1 683.2 419.1 684.8 419.2 686.51 419.2 688.0 419.3 689.6 419.4 691.2 419.4 692.8 419.4 694.4 419.56 695.9 419.6 697.56 419.6 699.0 419.6 700.6 419.7 702.1 419.8 703.7 419.8 705.2 419.9 706.7 419.9 708.2 419.9 709.7 420.0 711.2 420.1 712.7 420.1 714.2 420.1 715.7 420.2 717.2 420.2 718.7 420.3 720.1 420.4 721.6 420.4 723.0 420.4 724.56 420.56 725.9 420.6 727.4 420.6 728.8 420.6 730.2 420.7 731.6 420.8 733.0 420.8 734.51 420.9 735.8 420.9 737.2 420.9 738.6 421.0 740.0 421.1 741.7 421.1 743.3 421.2 744.9 421.2 746.6 421.3 748.2 421.4 749.8 421.4 751.3 421.53 752.9 421.59 754.53 421.6 756.0 421.6 757.6 421.7 759.1 421.8 760.6 421.8 762.1 421.9 763.6 421.9 765.1 422.0 766.6 422.1 768.1 422.1 769.6 422.2 771.1 422.2 772.59 422.3 774.0 422.4 775.52 422.4 776.9 422.54 778.4 422.60 779.8 422.6 781.3 422.7 782.7 422.7 784.2 422.8 785.6 422.9 787.1 422.9 788.61 423.0 790.0 423.1 791.6 423.1 793.2 423.2 794.8 423.3 796.4 423.4 797.9 423.4 799.56 423.57 801.1 423.6 802.6 423.7 804.2 423.7 805.7 423.8 807.3 423.9 808.8 424.0 810.4 424.0 811.9 424.1 813.4 424.2 815.0 424.3 816.55 424.4 818.0 424.4 819.58 424.58 821.0 424.6 822.61 424.7 824.1 424.8 825.6 424.9 827.1 425.0 828.6 425.1 830.0 425.2 831.60 425.3 833.0 425.4 834.58 425.56 836.0 425.6 837.6 425.7 839.2 425.9 840.8 426.0 842.4 426.1 844.1 426.3 845.7 426.4 847.4 426.6 849.0 426.7 850.6 426.9 852.3 427.0 853.9 427.2 855.59 427.3 857.1 427.55 858.8 427.6 860.3 427.8 861.9 428.0 863.54 428.1 865.0 428.3 866.60 428.4 868.0 428.6 869.58 428.8 871.0 428.9 872.4 429.1 873.8 429.2 875.1 429.4 876.52 429.61 877.7 429.7 879.0 430.0 881.0 430.2 882.8 430.53 884.6 430.7 886.3 431.0 887.9 431.3 889.53 431.59 891.0 431.8 892.4 432.1 893.8 432.3 895.2 432.6 896.6 432.8 897.9 433.1 899.3 433.3 900.7 433.6 902.1 433.8 903.58 434.0 905.0 434.2 906.6 434.4 908.2 434.6 909.9 434.8 911.6 435.0 913.2 435.2 914.9 435.4 916.61 435.6 918.2 435.8 919.8 435.9 921.4 436.1 923.0 436.3 924.54 436.52 925.9 436.6 927.4 436.8 928.7 437.0 930.0 437.3 931.9 437.60 933.8 437.8 935.52 438.0 937.1 438.2 938.6 438.57 940.0 438.8 941.3 439.1 942.6 439.60 943.8 440.0 945.0 440.8 946.6 441.6 948.1 442.57 949.56 443.57 950.7 444.6 951.7 445.8 952.56 447.0 953.0 448.4 953.1 449.9 952.9 451.4 952.54 453.1 951.9 454.7 951.2 456.4 950.58 458.0 950.0 462.0 947.2 466.0 945.1 470.0 945.8 474.0 940.3 478.0 944.0 482.0 948.3 486.0 949.4 490.0 952.6 494.0 949.8 498.0 955.2 502.0 946.0 506.0 950.8 510.0 955.4 514.0 937.2 518.0 930.1 522.0 941.0 526.0 946.9 530.0 950.58 534.0 948.6 538.0 936.8 542.0 937.8 546.0 952.4 550.0 942.7 554.0 956.2 558.0 948.7 562.0 953.8 566.0 954.1 570.0 955.3 574.0 955.0 578.0 942.6 582.0 946.9 586.0 944.4 590.0 947.53 594.0 954.7 598.0 946.9 602.0 943.54 606.0 942.3 610.0 944.0 614.0 950.0 618.0 943.3 622.0 957.1 626.0 953.7 630.0 948.7 634.0 938.9 638.0 945.52 642.0 949.0 646.0 938.4 650.0 957.1 654.0 960.4 658.0 952.6 662.0 952.0 666.0 960.6 670.0 952.6 674.0 940.6 678.0 945.8 682.0 944.9 686.0 944.8 690.0 933.2 694.0 951.7 698.0 945.2 702.0 950.1 706.0 949.1 710.0 955.60 714.0 948.9 718.0 944.0 722.0 948.58 726.0 951.8 730.0 942.6 734.0 953.3 738.0 948.9 742.0 945.6 746.0 956.9 750.0 943.1 754.0 951.9 758.0 942.0 762.0 946.6 766.0 938.2 770.0 942.9 774.0 956.3 778.0 953.1 782.0 951.2 786.0 945.8 790.0 948.4 794.0 937.6 798.0 939.2 802.0 944.9 806.0 942.0 810.0 944.0 814.0 948.1 818.0 947.0 822.0 944.6 826.0 952.4 830.0 946.6 834.0 947.3 838.0 941.9 842.0 942.3 846.0 940.0 850.0 948.0 854.0 939.54 858.0 947.58 862.0 953.0 866.0 954.61 870.0 947.9 874.0 936.2 878.0 943.53 882.0 937.56 886.0 948.4 890.0 945.1 894.0 951.0 898.0 959.4 902.0 949.2 906.0 956.6 910.0 945.1 914.0 942.9 918.0 952.7 922.0 955.0 926.0 941.8 930.0 944.2 934.0 934.8 938.0 941.53 942.0 949.3 946.0 947.2 950.0 947.2 954.0 942.8 958.0 951.1 962.0 952.4 966.0 951.2 970.0 949.4 974.0 940.6 978.0 956.2 982.0 945.6 986.0 945.8 990.0 951.9 994.0 936.8 998.0 949.1 1002.0 949.4 1006.0 951.8 1010.0 955.8 1014.0 950.4 1018.0 938.8 1022.0 949.0 1026.0 952.9 1030.0 951.2 1034.0 941.3 1038.0 939.2 1042.0 953.6 1046.0 954.2 1050.0 951.8 1054.0 941.0 1058.0 959.7 1062.0 934.1 1066.0 947.7 1070.0 959.60 1074.0 945.1 1078.0 945.52 1082.0 936.3 1086.0 949.59 1090.0 934.51 1094.0 941.53 1098.0 938.4 1102.0 930.51 1106.0 942.0 1110.0 932.4 1114.0 939.8 1118.0 945.7 1122.0 944.53 1126.0 949.3 1130.0 951.6 1134.0 945.0 1138.0 943.8 1142.0 944.1 1146.0 945.2 1150.0 951.2 1154.0 944.4 1158.0 947.1 1162.0 944.56 1166.0 939.8 1170.0 947.3 1174.0 934.6 1178.0 939.0 1182.0 946.3 1186.0 931.9 1190.0 938.9 1194.0 932.8 1198.0 940.8 1202.0 936.8 1206.0 943.1 1210.0 941.2 1214.0 944.0 1218.0 952.7 1222.0 948.3 1226.0 953.8 1230.0 952.2 1234.0 952.1 1238.0 948.4 1242.0 941.0 1246.0 948.0 1250.0 953.9 1254.0 947.1 1258.0 942.0 1262.0 954.2 1266.0 943.0 1270.0 942.2 1274.0 938.7 1278.0 940.2 1282.0 946.0 1286.0 961.2 1290.0 951.8 1294.0 948.8 1298.0 950.4 1302.0 949.4 1306.0 938.0 1310.0 947.4 1314.0 952.7 1318.0 953.2 1322.0 955.8 1326.0 944.9 1330.0 941.4 1334.0 956.4 1338.0 953.6 1342.0 936.9 1346.0 944.54 1350.0 942.6 1354.0 946.0 1358.0 945.8 1362.0 944.8 1366.0 952.7 1370.0 956.7 1374.0 957.7 1378.0 946.7 1382.0 937.9 1386.0 948.0 1390.0 942.1 1394.0 951.0 1398.0 951.0 1402.0 945.59 1406.0 940.8 1410.0 944.9 1414.0 953.6 1418.0 944.1 1422.0 952.6 1426.0 950.8 1430.0 948.7 1434.0 956.1 1438.0 945.3 1442.0 955.3 1446.0 944.6 1450.0 944.6 1454.0 942.55 1458.0 950.7 1462.0 943.6 1466.0 950.7 1470.0 946.0 1474.0 958.2 1478.0 960.53 1482.0 949.9 1486.0 958.0 1490.0 954.0 1494.0 965.4 1498.0 956.6 1502.0 948.6 1506.0 964.9 1510.0 954.7 1514.0 950.2 1518.0 955.2 1522.0 952.8 1526.0 961.2 1530.0 954.8 1534.0 967.8 1538.0 962.7 1542.0 948.8 1546.0 948.1 1550.0 952.4 1554.0 944.2 1558.0 953.4 1562.0 953.3 1566.0 948.59 1570.0 947.8 1574.0 950.7 1578.0 953.9 1582.0 954.1 1586.0 947.0 1590.0 952.8 1594.0 945.57 1598.0 952.9 1602.0 945.1 1606.0 952.1 1610.0 938.1 1614.0 938.1 1618.0 944.6 1622.0 949.8 1626.0 939.59 1630.0 943.57 1634.0 945.6 1638.0 945.3 1642.0 940.0 1646.0 945.9 1650.0 943.0 1654.0 950.2 1658.0 944.9 1662.0 936.2 1666.0 933.3 1670.0 946.8 1674.0 953.4 1678.0 949.3 1682.0 954.59 1686.0 947.2 1690.0 941.6 1694.0 952.2 1698.0 947.3 1702.0 949.3 1706.0 937.8 1710.0 947.2 1714.0 943.2 1718.0 950.0 1722.0 941.1 1726.0 941.0 1730.0 942.1 1734.0 953.1 1738.0 946.8 1742.0 942.7 1746.0 940.7 1750.0 940.2 1754.0 954.9 1758.0 938.7 1762.0 944.8 1766.0 952.4 1770.0 954.4 1774.0 946.3 1778.0 949.9 1782.0 947.6 1786.0 947.4 1790.0 942.2 1794.0 952.1 1798.0 945.8 1802.0 954.9 1806.0 941.3 1810.0 952.3 1814.0 939.4 1818.0 937.0 1822.0 946.9 1826.0 939.0 1830.0 946.6 1834.0 939.3 1838.0 954.51 1842.0 945.6 1846.0 939.8 1850.0 948.0 1854.0 952.6 1858.0 943.6 1862.0 949.9 1866.0 956.9 1870.0 950.0 1874.0 946.9 1878.0 946.7 1882.0 954.9 1886.0 943.2 1890.0 933.3 1894.0 945.3 1898.0 942.9 1902.0 959.0 1906.0 950.4 1910.0 943.7 1913.56 942.2" fill="none" stroke="#ffaf00" stroke-width="11" stroke-dasharray="10 8.75" stroke-linejoin="miter" stroke-miterlimit="2" shape-rendering="crispEdges"/>
<path d="M237.56 62.0 238.2 63.3 238.9 64.7 239.60 66.0 240.2 67.3 240.9 68.6 241.6 69.9 242.3 71.3 242.9 72.6 243.6 74.0 244.3 75.55 245.0 77.0 245.6 78.3 246.2 79.7 246.8 81.2 247.3 82.6 247.9 84.1 248.57 85.6 249.1 87.2 249.7 88.7 250.3 90.2 250.9 91.7 251.55 93.2 252.1 94.6 252.7 96.0 253.4 97.53 254.0 98.9 254.7 100.3 255.4 101.7 256.1 103.1 256.8 104.4 257.56 105.8 258.2 107.1 258.9 108.55 259.6 109.8 260.2 111.2 260.9 112.6 261.6 114.0 262.2 115.4 262.9 116.8 263.56 118.2 264.1 119.6 264.8 121.0 265.4 122.4 266.0 123.8 266.7 125.2 267.3 126.6 267.9 128.0 268.56 129.4 269.1 130.8 269.7 132.2 270.3 133.7 270.9 135.1 271.52 136.60 272.0 138.0 272.6 139.4 273.2 140.9 273.8 142.3 274.3 143.7 274.9 145.2 275.56 146.6 276.1 148.0 276.7 149.52 277.2 150.9 277.8 152.3 278.4 153.7 279.0 155.2 279.6 156.6 280.2 158.0 280.7 159.52 281.3 160.9 281.8 162.3 282.4 163.8 282.9 165.2 283.4 166.58 283.9 167.8 284.3 169.0 284.8 170.2 285.2 171.57 285.7 172.8 286.2 174.3 286.7 175.8 287.3 177.57 287.9 179.4 288.6 181.56 289.0 182.6 289.4 183.8 289.8 185.1 290.2 186.4 290.6 187.8 291.0 189.2 291.55 190.6 292.0 192.1 292.4 193.6 292.9 195.1 293.4 196.6 293.9 198.2 294.4 199.8 294.9 201.4 295.4 203.0 295.9 204.6 296.4 206.2 296.9 207.8 297.4 209.4 297.9 210.9 298.4 212.56 298.8 214.0 299.3 215.59 299.8 217.0 300.3 218.51 300.8 219.9 301.2 221.3 301.7 222.8 302.2 224.2 302.7 225.6 303.2 227.0 303.7 228.4 304.2 229.9 304.7 231.3 305.2 232.7 305.7 234.1 306.1 235.57 306.6 236.9 307.1 238.3 307.6 239.8 308.1 241.2 308.6 242.6 309.0 244.0 309.56 245.54 310.0 246.9 310.4 248.4 310.9 249.8 311.3 251.3 311.7 252.7 312.1 254.1 312.60 255.6 312.9 257.0 313.3 258.4 313.7 259.9 314.1 261.3 314.58 262.8 314.9 264.3 315.3 265.7 315.7 267.2 316.0 268.6 316.4 270.1 316.8 271.6 317.2 273.0 317.59 274.58 317.9 276.0 318.3 277.52 318.6 278.9 319.0 280.4 319.4 281.9 319.7 283.3 320.1 284.8 320.4 286.2 320.8 287.7 321.2 289.2 321.61 290.7 321.9 292.2 322.3 293.8 322.7 295.3 323.0 296.8 323.4 298.3 323.7 299.8 324.1 301.3 324.4 302.8 324.8 304.3 325.2 305.9 325.57 307.4 325.9 308.9 326.2 310.4 326.6 311.9 326.9 313.4 327.3 314.9 327.6 316.4 328.0 318.0 328.3 319.52 328.7 321.0 329.0 322.55 329.4 324.0 329.8 325.57 330.1 327.0 330.54 328.60 330.8 330.0 331.2 331.6 331.6 333.1 331.9 334.6 332.3 336.1 332.7 337.6 333.0 339.1 333.4 340.6 333.8 342.1 334.1 343.7 334.54 345.2 334.8 346.7 335.2 348.2 335.6 349.7 335.9 351.2 336.3 352.7 336.6 354.2 337.0 355.8 337.3 357.3 337.7 358.8 338.0 360.3 338.3 361.8 338.7 363.3 339.0 364.8 339.3 366.4 339.7 367.9 340.0 369.4 340.3 370.9 340.7 372.4 341.0 373.9 341.3 375.52 341.6 377.0 342.0 378.56 342.3 380.0 342.6 381.60 342.9 383.1 343.2 384.6 343.6 386.1 343.9 387.6 344.2 389.1 344.54 390.6 344.8 392.2 345.1 393.7 345.4 395.2 345.7 396.7 346.0 398.2 346.3 399.7 346.6 401.3 346.9 402.8 347.2 404.3 347.53 405.9 347.8 407.4 348.0 409.0 348.3 410.57 348.6 412.0 348.9 413.6 349.2 415.1 349.52 416.7 349.7 418.2 350.0 419.7 350.3 421.2 350.6 422.7 350.8 424.2 351.1 425.7 351.4 427.2 351.6 428.7 351.9 430.1 352.1 431.6 352.4 433.0 352.7 434.6 353.0 436.2 353.3 437.8 353.59 439.4 353.8 441.0 354.1 442.60 354.3 444.1 354.6 445.6 354.9 447.2 355.1 448.7 355.4 450.2 355.6 451.7 355.9 453.2 356.1 454.7 356.4 456.2 356.7 457.7 356.9 459.2 357.2 460.6 357.52 462.1 357.7 463.61 358.0 465.0 358.3 466.6 358.6 468.1 358.9 469.60 359.2 471.0 359.55 472.3 359.8 473.7 360.1 475.0 360.4 476.4 360.7 477.8 361.0 479.1 361.3 480.59 361.6 482.0 361.9 483.53 362.2 485.0 362.6 486.6 362.9 488.3 363.3 490.1 363.6 492.0 364.0 494.0 364.2 495.2 364.51 496.52 364.7 497.7 364.9 499.1 365.2 500.51 365.4 501.9 365.7 503.3 366.0 504.8 366.2 506.2 366.55 507.8 366.8 509.3 367.0 510.9 367.3 512.4 367.6 514.0 367.9 515.6 368.1 517.2 368.4 518.8 368.7 520.4 369.0 522.0 369.3 523.6 369.58 525.2 369.8 526.8 370.1 528.4 370.3 530.0 370.6 531.57 370.9 533.0 371.1 534.6 371.4 536.0 371.6 537.55 371.8 538.9 372.1 540.3 372.3 541.7 372.56 543.0 372.8 544.8 373.1 546.56 373.3 548.2 373.6 549.8 373.9 551.52 374.1 553.0 374.3 554.6 374.6 556.1 374.8 557.7 375.0 559.2 375.3 560.7 375.53 562.1 375.7 563.6 375.9 565.0 376.1 566.57 376.3 568.0 376.58 569.4 376.7 570.9 376.9 572.4 377.1 573.9 377.4 575.4 377.6 576.9 377.8 578.4 378.0 580.0 378.2 581.53 378.4 582.9 378.6 584.4 378.8 585.9 379.0 587.4 379.2 588.9 379.4 590.4 379.6 592.0 379.8 593.53 380.0 595.0 380.2 596.57 380.3 598.0 380.59 599.6 380.7 601.1 380.9 602.6 381.1 604.1 381.3 605.6 381.54 607.2 381.7 608.7 381.9 610.2 382.0 611.7 382.2 613.1 382.4 614.6 382.6 616.1 382.8 617.6 383.0 619.0 383.2 620.6 383.4 622.1 383.6 623.6 383.8 625.2 384.1 626.7 384.3 628.2 384.53 629.7 384.7 631.2 384.9 632.7 385.1 634.2 385.3 635.6 385.59 637.1 385.7 638.6 386.0 640.1 386.2 641.6 386.4 643.0 386.6 644.58 386.8 646.0 387.0 647.55 387.2 649.0 387.4 650.53 387.6 652.0 387.8 653.54 388.0 655.0 388.2 656.58 388.4 658.0 388.6 659.6 388.8 661.1 389.0 662.6 389.1 664.2 389.3 665.7 389.58 667.3 389.7 668.8 389.9 670.3 390.1 671.9 390.2 673.4 390.4 675.0 390.6 676.59 390.8 678.1 391.0 679.6 391.2 681.2 391.4 682.7 391.60 684.3 391.7 685.8 391.9 687.4 392.1 688.9 392.3 690.52 392.56 692.0 392.7 693.60 392.9 695.1 393.1 696.6 393.3 698.2 393.59 699.7 393.7 701.2 394.0 702.8 394.2 704.3 394.4 705.8 394.6 707.4 394.8 708.9 395.0 710.4 395.2 712.0 395.52 713.57 395.7 715.1 395.9 716.6 396.1 718.1 396.3 719.7 396.58 721.2 396.7 722.8 396.9 724.3 397.1 725.9 397.3 727.4 397.56 729.0 397.7 730.56 397.8 732.0 398.0 733.58 398.2 735.0 398.3 736.6 398.56 738.1 398.7 739.6 398.8 741.1 399.0 742.6 399.1 744.2 399.2 745.7 399.4 747.2 399.60 748.8 399.7 750.3 399.8 751.8 400.0 753.4 400.1 754.9 400.3 756.4 400.52 757.9 400.6 759.4 400.8 761.0 401.0 762.54 401.1 764.0 401.3 765.56 401.56 767.0 401.7 768.6 401.9 770.1 402.1 771.7 402.3 773.2 402.59 774.8 402.7 776.3 403.0 777.9 403.2 779.4 403.4 781.0 403.6 782.60 403.9 784.1 404.1 785.6 404.3 787.2 404.6 788.7 404.8 790.2 405.0 791.8 405.3 793.3 405.58 794.8 405.8 796.4 406.0 797.9 406.3 799.4 406.56 801.0 406.8 802.54 407.0 804.0 407.3 805.58 407.57 807.0 407.8 808.60 408.0 810.0 408.3 811.61 408.6 813.0 408.8 814.60 409.1 816.0 409.4 817.59 409.6 819.0 409.9 820.57 410.2 822.0 410.52 823.55 410.7 825.0 411.0 826.53 411.3 828.0 411.6 829.52 411.9 831.0 412.1 832.51 412.4 834.0 412.7 835.52 413.0 837.0 413.2 838.54 413.56 840.0 413.8 841.52 414.0 842.9 414.3 844.4 414.57 845.9 414.8 847.4 415.0 848.9 415.2 850.4 415.55 851.9 415.7 853.4 416.0 854.9 416.2 856.4 416.53 857.9 416.7 859.4 417.0 860.9 417.2 862.4 417.54 863.9 417.7 865.3 418.0 866.8 418.3 868.3 418.60 869.8 418.8 871.2 419.1 872.7 419.4 874.1 419.7 875.6 420.0 877.0 420.3 878.61 420.7 880.1 421.1 881.6 421.4 883.2 421.8 884.7 422.2 886.3 422.6 887.8 422.9 889.4 423.3 890.9 423.7 892.4 424.1 893.9 424.61 895.4 425.0 896.9 425.4 898.4 425.8 899.9 426.2 901.3 426.6 902.8 427.0 904.2 427.4 905.6 427.8 907.0 428.2 908.3 428.6 909.7 429.0 911.0 429.55 912.7 430.0 914.3 430.51 915.9 430.9 917.57 431.4 919.1 431.9 920.6 432.3 922.2 432.8 923.7 433.2 925.1 433.7 926.6 434.2 928.0 434.7 929.4 435.2 930.7 435.7 932.0 436.3 933.3 436.8 934.6 437.4 935.8 438.0 937.0 438.9 938.6 439.8 940.0 440.7 941.4 441.7 942.7 442.7 944.0 443.7 945.2 444.7 946.3 445.7 947.4 446.8 948.6 447.8 949.6 448.9 950.7 450.0 951.9 451.0 953.0 452.0 954.1 452.9 955.3 453.8 956.4 454.7 957.58 455.60 958.6 456.4 959.7 457.3 960.8 458.3 961.9 459.4 962.9 460.6 963.9 461.9 965.0 463.4 966.0 465.0 967.0 466.1 967.6 467.2 968.2 468.4 968.7 469.6 969.3 470.9 969.9 472.2 970.4 473.6 971.0 475.0 971.57 476.53 972.1 477.9 972.6 479.4 973.1 481.0 973.7 482.54 974.2 484.0 974.7 485.61 975.3 487.1 975.8 488.6 976.3 490.1 976.8 491.6 977.4 493.1 977.9 494.6 978.52 496.0 979.0 499.0 980.4 502.0 981.3 505.0 983.8 508.0 985.4 511.0 984.6 514.0 985.4 517.0 989.57 520.0 989.3 523.0 990.4 526.0 990.56 529.0 989.9 532.0 988.7 535.0 990.4 538.0 988.6 541.0 987.56 544.0 987.3 547.0 986.2 550.0 987.4 553.0 984.3 556.0 991.4 559.0 986.54 562.0 989.0 565.0 992.6 568.0 989.8 571.0 990.2 574.0 990.7 577.0 984.9 580.0 989.0 583.0 987.9 586.0 989.1 589.0 990.53 592.0 990.52 595.0 991.1 598.0 989.4 601.0 986.8 604.0 983.8 607.0 985.9 610.0 983.8 613.0 987.58 616.0 992.2 619.0 992.3 622.0 988.7 625.0 989.7 628.0 991.6 631.0 990.3 634.0 990.9 637.0 986.1 640.0 987.7 643.0 990.2 646.0 989.2 649.0 990.7 652.0 990.4 655.0 990.8 658.0 989.9 661.0 991.3 664.0 991.8 667.0 990.6 670.0 988.0 673.0 992.6 676.0 991.2 679.0 992.7 682.0 993.4 685.0 990.7 688.0 994.2 691.0 991.0 694.0 989.3 697.0 994.1 700.0 992.1 703.0 994.1 706.0 996.1 709.0 998.55 712.0 993.6 715.0 996.8 718.0 1000.2 721.0 997.9 724.0 992.8 727.0 998.2 730.0 997.56 733.0 998.0 736.0 996.6 739.0 994.9 742.0 995.4 745.0 994.4 748.0 993.6 751.0 995.4 754.0 995.9 757.0 993.2 760.0 996.1 763.0 994.7 766.0 993.9 769.0 987.0 772.0 991.8 775.0 991.3 778.0 990.2 781.0 994.1 784.0 991.51 787.0 997.0 790.0 995.3 793.0 993.0 796.0 996.0 799.0 993.9 802.0 993.0 805.0 989.1 808.0 991.1 811.0 991.7 814.0 990.4 817.0 985.8 820.0 990.9 823.0 992.1 826.0 992.0 829.0 991.3 832.0 990.54 835.0 992.4 838.0 993.60 841.0 995.4 844.0 996.2 847.0 994.3 850.0 993.56 853.0 996.7 856.0 995.6 859.0 999.8 862.0 993.3 865.0 994.1 868.0 992.9 871.0 988.8 874.0 992.6 877.0 991.0 880.0 990.2 883.0 989.9 886.0 991.7 889.0 993.4 892.0 988.6 895.0 994.1 898.0 993.3 901.0 992.2 904.0 992.59 907.0 991.6 910.0 990.7 913.0 992.3 916.0 990.0 919.0 996.4 922.0 995.3 925.0 992.9 928.0 990.3 931.0 993.4 934.0 992.2 937.0 993.9 940.0 993.9 943.0 996.6 946.0 993.9 949.0 996.4 952.0 994.4 955.0 994.1 958.0 996.9 961.0 993.4 964.0 993.6 967.0 993.59 970.0 995.0 973.0 995.3 976.0 993.57 979.0 991.0 982.0 993.2 985.0 991.1 988.0 992.4 991.0 994.4 994.0 995.2 997.0 990.4 1000.0 996.60 1003.0 993.53 1006.0 994.7 1009.0 995.8 1012.0 990.2 1015.0 991.7 1018.0 994.0 1021.0 995.7 1024.0 993.3 1027.0 993.4 1030.0 995.7 1033.0 992.2 1036.0 994.6 1039.0 996.7 1042.0 994.3 1045.0 995.8 1048.0 993.4 1051.0 989.7 1054.0 990.6 1057.0 990.7 1060.0 990.8 1063.0 993.0 1066.0 996.0 1069.0 998.1 1072.0 999.3 1075.0 998.1 1078.0 997.0 1081.0 994.60 1084.0 992.1 1087.0 994.2 1090.0 987.7 1093.0 991.57 1096.0 988.4 1099.0 991.0 1102.0 994.6 1105.0 993.8 1108.0 997.4 1111.0 993.0 1114.0 993.4 1117.0 991.9 1120.0 992.2 1123.0 991.1 1126.0 990.60 1129.0 991.0 1132.0 992.4 1135.0 990.2 1138.0 989.58 1141.0 988.59 1144.0 987.7 1147.0 986.7 1150.0 988.0 1153.0 990.60 1156.0 987.6 1159.0 992.7 1162.0 990.8 1165.0 989.6 1168.0 990.0 1171.0 991.9 1174.0 991.4 1177.0 991.55 1180.0 994.7 1183.0 996.3 1186.0 990.2 1189.0 994.3 1192.0 991.2 1195.0 989.6 1198.0 990.8 1201.0 993.6 1204.0 991.6 1207.0 991.8 1210.0 995.4 1213.0 994.0 1216.0 993.4 1219.0 997.7 1222.0 996.3 1225.0 994.9 1228.0 994.6 1231.0 995.9 1234.0 996.9 1237.0 998.3 1240.0 997.9 1243.0 996.0 1246.0 992.8 1249.0 995.9 1252.0 994.2 1255.0 992.1 1258.0 991.60 1261.0 993.59 1264.0 993.1 1267.0 993.8 1270.0 990.60 1273.0 996.9 1276.0 990.52 1279.0 993.6 1282.0 995.7 1285.0 995.1 1288.0 992.0 1291.0 995.9 1294.0 997.9 1297.0 997.2 1300.0 993.2 1303.0 996.8 1306.0 989.9 1309.0 992.8 1312.0 991.1 1315.0 992.6 1318.0 993.0 1321.0 994.59 1324.0 991.2 1327.0 993.60 1330.0 995.2 1333.0 993.1 1336.0 994.7 1339.0 995.4 1342.0 994.0 1345.0 994.8 1348.0 994.8 1351.0 994.3 1354.0 995.6 1357.0 993.7 1360.0 989.8 1363.0 991.1 1366.0 992.0 1369.0 991.51 1372.0 998.8 1375.0 997.3 1378.0 992.55 1381.0 995.8 1384.0 999.9 1387.0 995.8 1390.0 994.7 1393.0 993.1 1396.0 991.4 1399.0 991.8 1402.0 994.2 1405.0 997.2 1408.0 996.4 1411.0 997.1 1414.0 998.0 1417.0 995.60 1420.0 996.52 1423.0 995.2 1426.0 994.1 1429.0 1000.4 1432.0 997.2 1435.0 997.3 1438.0 994.1 1441.0 991.7 1444.0 997.6 1447.0 991.8 1450.0 995.9 1453.0 995.0 1456.0 995.6 1459.0 995.4 1462.0 994.53 1465.0 988.7 1468.0 994.60 1471.0 989.9 1474.0 995.55 1477.0 994.52 1480.0 994.2 1483.0 996.1 1486.0 995.4 1489.0 998.4 1492.0 1000.4 1495.0 999.9 1498.0 997.6 1501.0 998.3 1504.0 996.3 1507.0 998.9 1510.0 995.8 1513.0 993.6 1516.0 994.0 1519.0 993.1 1522.0 994.2 1525.0 995.0 1528.0 997.1 1531.0 998.0 1534.0 997.2 1537.0 998.3 1540.0 996.3 1543.0 996.53 1546.0 992.7 1549.0 995.56 1552.0 995.8 1555.0 1001.6 1558.0 994.9 1561.0 998.4 1564.0 998.6 1567.0 997.1 1570.0 1001.0 1573.0 1000.6 1576.0 997.8 1579.0 995.9 1582.0 999.7 1585.0 996.8 1588.0 999.7 1591.0 996.6 1594.0 996.4 1597.0 993.4 1600.0 996.0 1603.0 994.3 1606.0 996.3 1609.0 994.6 1612.0 993.6 1615.0 993.7 1618.0 995.9 1621.0 997.4 1624.0 995.4 1627.0 1000.3 1630.0 994.59 1633.0 994.0 1636.0 991.9 1639.0 989.0 1642.0 994.1 1645.0 994.8 1648.0 996.2 1651.0 993.2 1654.0 994.6 1657.0 993.9 1660.0 995.7 1663.0 990.7 1666.0 994.1 1669.0 994.7 1672.0 991.0 1675.0 989.9 1678.0 993.9 1681.0 992.6 1684.0 995.0 1687.0 994.7 1690.0 995.0 1693.0 992.1 1696.0 988.0 1699.0 993.0 1702.0 991.6 1705.0 995.3 1708.0 994.4 1711.0 999.2 1714.0 995.9 1717.0 997.4 1720.0 997.2 1723.0 994.0 1726.0 993.8 1729.0 992.4 1732.0 990.55 1735.0 995.6 1738.0 992.9 1741.0 993.9 1744.0 997.8 1747.0 999.8 1750.0 999.2 1753.0 997.2 1756.0 995.52 1759.0 991.0 1762.0 995.2 1765.0 996.9 1768.0 992.58 1771.0 991.0 1774.0 996.0 1777.0 994.4 1780.0 987.0 1783.0 992.4 1786.0 990.6 1789.0 991.1 1792.0 997.53 1795.0 996.54 1798.0 995.0 1801.0 995.3 1804.0 997.7 1807.0 992.1 1810.0 994.8 1813.0 991.6 1816.0 993.9 1819.0 992.8 1822.0 991.4 1825.0 995.2 1828.0 994.56 1831.0 997.1 1834.0 993.3 1837.0 994.8 1840.0 993.7 1843.0 997.4 1846.0 993.6 1849.0 994.8 1852.0 996.9 1855.0 995.1 1858.0 994.3 1861.0 994.0 1864.0 994.0 1867.0 994.52 1870.0 992.4 1873.0 989.0 1876.0 995.56 1879.0 992.1 1882.0 998.7 1885.0 996.4 1888.0 1001.4 1891.0 997.1 1894.0 995.4 1897.0 996.59 1900.0 992.4 1903.0 995.4 1906.0 994.59 1909.0 995.8 1912.0 992.8 1913.56 993.4" fill="none" stroke="#0000ff" stroke-width="11.2" stroke-dasharray="39 8 19 9" stroke-linejoin="miter" stroke-miterlimit="2" shape-rendering="crispEdges"/>
<path d="M226.56 63.0 227.59 60.56 228.56 59.56 228.8 60.3 229.2 61.6 229.52 63.4 229.7 65.6 230.0 68.0 230.1 69.2 230.2 70.53 230.3 71.8 230.4 73.2 230.4 74.7 230.57 76.3 230.6 77.9 230.7 79.6 230.8 81.3 230.9 83.1 231.0 85.0 231.1 86.3 231.2 87.6 231.3 88.9 231.3 90.2 231.4 91.6 231.58 92.9 231.6 94.3 231.7 95.8 231.8 97.2 231.9 98.8 232.1 100.4 232.2 102.2 232.4 104.0 232.6 105.9 232.8 107.9 233.0 110.0 233.1 111.2 233.3 112.4 233.4 113.6 233.59 114.8 233.7 116.0 233.8 117.3 234.0 118.6 234.1 119.9 234.3 121.2 234.52 122.60 234.6 123.9 234.8 125.3 235.0 126.7 235.2 128.1 235.3 129.6 235.59 131.1 235.7 132.6 235.9 134.1 236.1 135.7 236.3 137.3 236.58 138.9 236.7 140.6 236.9 142.3 237.2 144.0 237.4 145.7 237.6 147.58 237.8 149.3 238.0 151.2 238.3 153.1 238.56 155.0 238.6 156.2 238.8 157.53 238.9 158.7 239.1 160.0 239.3 161.3 239.4 162.6 239.6 164.0 239.7 165.3 239.9 166.7 240.1 168.1 240.2 169.54 240.4 170.9 240.6 172.3 240.7 173.8 240.9 175.2 241.1 176.7 241.2 178.2 241.4 179.7 241.6 181.2 241.8 182.7 241.9 184.2 242.1 185.7 242.3 187.2 242.54 188.8 242.7 190.3 242.8 191.9 243.0 193.4 243.2 195.0 243.4 196.6 243.6 198.2 243.8 199.7 244.0 201.3 244.1 202.9 244.3 204.54 244.58 206.1 244.7 207.7 244.9 209.2 245.1 210.8 245.3 212.4 245.53 214.0 245.7 215.6 245.9 217.1 246.0 218.7 246.2 220.3 246.4 221.8 246.6 223.4 246.8 225.0 247.0 226.56 247.2 228.0 247.4 229.4 247.61 230.9 247.7 232.3 247.9 233.8 248.1 235.3 248.3 236.7 248.55 238.2 248.7 239.7 248.9 241.2 249.1 242.7 249.3 244.2 249.52 245.6 249.7 247.1 249.9 248.6 250.1 250.1 250.3 251.6 250.51 253.1 250.7 254.6 250.9 256.1 251.1 257.6 251.3 259.2 251.51 260.7 251.7 262.2 251.9 263.7 252.1 265.2 252.3 266.7 252.52 268.2 252.7 269.7 252.9 271.3 253.1 272.8 253.3 274.3 253.51 275.8 253.6 277.3 253.8 278.8 254.0 280.4 254.2 281.9 254.4 283.4 254.6 284.9 254.8 286.4 255.0 287.9 255.2 289.4 255.4 291.0 255.6 292.52 255.7 294.0 255.9 295.54 256.1 297.0 256.3 298.55 256.51 300.0 256.6 301.56 256.8 303.0 257.0 304.56 257.1 306.0 257.3 307.60 257.53 309.1 257.6 310.6 257.8 312.2 258.0 313.7 258.1 315.3 258.3 316.8 258.4 318.4 258.6 320.0 258.7 321.59 258.9 323.1 259.0 324.7 259.2 326.3 259.3 327.8 259.55 329.4 259.6 331.0 259.8 332.6 259.9 334.2 260.1 335.8 260.2 337.3 260.4 338.9 260.56 340.53 260.6 342.0 260.8 343.6 260.9 345.2 261.1 346.7 261.2 348.2 261.4 349.8 261.56 351.3 261.6 352.8 261.8 354.3 261.9 355.8 262.1 357.3 262.2 358.8 262.4 360.3 262.55 361.8 262.6 363.2 262.8 364.6 262.9 366.1 263.1 367.52 263.2 368.9 263.4 370.2 263.57 371.6 263.7 372.9 263.8 374.3 263.9 375.6 264.1 376.9 264.2 378.1 264.4 379.4 264.6 381.2 264.9 383.0 265.1 384.7 265.3 386.3 265.58 387.8 265.7 389.3 266.0 390.8 266.2 392.2 266.4 393.6 266.6 394.9 266.9 396.2 267.1 397.56 267.3 398.8 267.58 400.0 267.7 401.2 268.0 402.55 268.2 403.7 268.4 405.0 268.6 406.2 268.9 407.56 269.1 408.8 269.3 410.1 269.6 411.54 269.8 412.9 270.0 414.3 270.3 415.8 270.58 417.3 270.8 418.9 271.0 420.6 271.3 422.3 271.58 424.1 271.8 426.0 272.0 427.9 272.3 430.0 272.4 431.2 272.6 432.4 272.8 433.7 272.9 435.0 273.1 436.3 273.2 437.6 273.4 439.0 273.60 440.4 273.7 441.9 273.9 443.3 274.0 444.8 274.2 446.3 274.4 447.8 274.60 449.4 274.7 451.0 274.9 452.61 275.1 454.2 275.2 455.8 275.4 457.4 275.6 459.0 275.7 460.7 275.9 462.4 276.1 464.1 276.3 465.7 276.4 467.4 276.6 469.1 276.8 470.8 277.0 472.59 277.2 474.2 277.3 475.9 277.57 477.6 277.7 479.3 277.9 481.0 278.0 482.7 278.2 484.4 278.4 486.1 278.6 487.8 278.7 489.4 278.9 491.1 279.1 492.7 279.3 494.3 279.4 495.9 279.6 497.60 279.8 499.1 280.0 500.7 280.1 502.2 280.3 503.7 280.52 505.2 280.6 506.7 280.8 508.1 281.0 509.61 281.1 510.9 281.3 512.3 281.4 513.6 281.6 514.9 281.8 516.2 281.9 517.4 282.1 518.6 282.2 519.8 282.4 520.9 282.56 522.0 282.8 524.58 283.2 526.9 283.58 529.1 283.8 531.1 284.1 533.1 284.51 534.9 284.8 536.6 285.0 538.2 285.3 539.7 285.6 541.1 285.9 542.4 286.2 543.7 286.52 545.0 286.7 546.2 287.0 547.4 287.3 548.6 287.6 549.7 287.9 550.9 288.2 552.1 288.4 553.3 288.7 554.56 289.0 555.8 289.4 557.1 289.7 558.58 290.0 560.0 290.3 561.52 290.7 562.9 291.0 564.4 291.3 565.8 291.7 567.3 292.0 568.7 292.4 570.2 292.8 571.7 293.1 573.1 293.55 574.6 293.9 576.0 294.2 577.54 294.6 578.9 295.0 580.4 295.3 581.9 295.7 583.3 296.0 584.8 296.4 586.2 296.8 587.7 297.1 589.2 297.4 590.6 297.8 592.1 298.1 593.6 298.4 595.0 298.7 596.58 299.0 598.0 299.3 599.54 299.6 601.0 299.8 602.52 300.1 604.0 300.3 605.51 300.6 607.0 300.8 608.51 301.1 610.0 301.3 611.53 301.61 613.0 301.8 614.54 302.0 616.0 302.2 617.56 302.4 619.0 302.7 620.58 302.9 622.0 303.1 623.59 303.3 625.0 303.56 626.61 303.7 628.0 303.9 629.61 304.1 631.0 304.3 632.60 304.6 634.0 304.8 635.58 305.0 637.0 305.2 638.60 305.52 640.1 305.7 641.6 305.9 643.2 306.1 644.7 306.4 646.3 306.6 647.8 306.8 649.3 307.1 650.9 307.3 652.4 307.57 654.0 307.7 655.54 308.0 657.0 308.2 658.60 308.4 660.1 308.6 661.6 308.8 663.1 309.0 664.6 309.3 666.1 309.53 667.6 309.7 669.1 309.9 670.6 310.1 672.1 310.3 673.60 310.56 675.0 310.7 676.6 310.9 678.2 311.1 679.7 311.3 681.3 311.61 682.8 311.7 684.4 311.9 685.9 312.1 687.4 312.3 689.0 312.59 690.54 312.7 692.0 312.9 693.56 313.1 695.0 313.3 696.58 313.54 698.0 313.7 699.58 313.9 701.0 314.0 702.57 314.2 704.0 314.4 705.57 314.6 707.0 314.8 708.56 315.0 710.0 315.2 711.6 315.4 713.2 315.6 714.8 315.8 716.4 316.1 718.1 316.3 719.7 316.55 721.4 316.7 723.0 316.9 724.7 317.1 726.3 317.4 727.9 317.6 729.61 317.8 731.1 318.0 732.7 318.2 734.3 318.4 735.8 318.6 737.2 318.7 738.7 318.9 740.1 319.1 741.4 319.2 742.7 319.4 744.0 319.6 746.0 319.8 747.9 320.0 749.7 320.1 751.4 320.3 753.1 320.4 754.6 320.56 756.1 320.6 757.59 320.8 758.9 320.9 760.2 321.1 761.56 321.3 762.8 321.56 764.0 321.9 765.9 322.3 767.8 322.7 769.54 323.1 771.1 323.7 772.57 324.3 773.8 325.1 775.0 326.0 776.0 327.1 776.8 328.56 777.4 330.0 777.8 331.6 778.1 333.2 778.3 334.9 778.59 336.56 778.7 338.0 779.0 339.7 779.2 341.4 779.1 343.1 779.0 344.8 779.0 346.4 779.2 347.8 779.8 349.0 781.0 349.6 781.8 350.1 782.7 350.60 783.6 351.0 784.6 351.3 785.7 351.7 786.9 352.0 788.2 352.3 789.7 352.61 791.3 352.8 793.2 353.0 795.2 353.3 797.54 353.56 800.0 353.6 801.1 353.7 802.2 353.8 803.4 353.8 804.7 353.9 806.0 354.0 807.3 354.0 808.7 354.1 810.2 354.1 811.7 354.2 813.2 354.2 814.7 354.3 816.3 354.3 817.9 354.4 819.6 354.4 821.2 354.51 822.9 354.55 824.58 354.58 826.2 354.6 827.9 354.6 829.6 354.6 831.3 354.6 832.9 354.7 834.6 354.7 836.2 354.7 837.9 354.8 839.56 354.8 841.1 354.8 842.7 354.9 844.2 354.9 845.7 354.9 847.2 355.0 848.6 355.0 850.0 355.0 851.7 355.1 853.4 355.1 855.0 355.2 856.7 355.2 858.2 355.2 859.8 355.3 861.4 355.3 862.9 355.3 864.4 355.4 865.9 355.4 867.4 355.4 868.8 355.53 870.3 355.56 871.8 355.59 873.2 355.6 874.7 355.6 876.2 355.6 877.7 355.7 879.1 355.7 880.6 355.8 882.1 355.8 883.7 355.8 885.2 355.9 886.8 355.9 888.4 356.0 890.0 356.1 891.4 356.1 892.9 356.2 894.3 356.2 895.8 356.3 897.2 356.3 898.7 356.4 900.2 356.51 901.7 356.58 903.2 356.6 904.7 356.6 906.3 356.7 907.8 356.8 909.3 356.8 910.8 356.9 912.4 357.0 913.9 357.1 915.4 357.1 917.0 357.2 918.57 357.3 920.0 357.3 921.6 357.4 923.1 357.55 924.6 357.6 926.1 357.6 927.6 357.7 929.1 357.8 930.6 357.9 932.1 357.9 933.60 358.0 935.0 358.1 936.60 358.2 938.0 358.2 939.58 358.3 941.0 358.4 942.4 358.53 943.8 358.6 945.2 358.6 946.6 358.7 948.0 358.8 949.4 358.9 950.7 359.0 952.1 359.1 953.55 359.1 954.9 359.2 956.3 359.3 957.7 359.4 959.1 359.53 960.6 359.6 962.1 359.6 963.6 359.7 965.1 359.8 966.7 359.9 968.3 360.0 969.9 360.1 971.6 360.1 973.4 360.2 975.2 360.3 977.0 360.4 978.3 360.4 979.6 360.52 981.0 360.57 982.4 360.6 983.8 360.6 985.3 360.7 986.8 360.7 988.3 360.8 989.9 360.8 991.52 360.9 993.1 360.9 994.7 361.0 996.3 361.0 998.0 361.1 999.7 361.1 1001.4 361.2 1003.0 361.2 1004.7 361.3 1006.4 361.3 1008.1 361.4 1009.8 361.4 1011.56 361.55 1013.2 361.60 1014.8 361.6 1016.55 361.6 1018.1 361.7 1019.7 361.7 1021.3 361.8 1022.9 361.9 1024.4 361.9 1026.0 362.0 1027.4 362.0 1028.9 362.1 1030.3 362.1 1031.7 362.2 1033.0 362.2 1034.3 362.3 1035.6 362.3 1036.7 362.4 1037.9 362.4 1039.0 362.56 1040.0 362.7 1042.8 362.8 1045.3 363.0 1047.4 363.1 1049.2 363.3 1050.8 363.4 1052.3 363.6 1053.56 363.7 1054.6 363.9 1055.7 364.1 1056.7 364.3 1057.7 364.57 1058.7 364.7 1059.8 365.0 1061.0 365.4 1062.8 365.7 1064.54 366.0 1066.1 366.3 1067.7 366.7 1069.2 367.2 1070.7 367.7 1072.1 368.3 1073.54 369.1 1074.8 370.0 1076.0 371.0 1077.0 372.1 1078.0 373.4 1078.9 374.7 1079.7 376.1 1080.56 377.6 1081.2 379.1 1082.0 380.6 1082.7 382.1 1083.4 383.6 1084.2 385.0 1085.0 389.0 1084.4 393.0 1087.4 397.0 1089.6 401.0 1097.56 405.0 1102.8 409.0 1090.9 413.0 1104.7 417.0 1096.6 421.0 1098.4 425.0 1095.4 429.0 1102.54 433.0 1085.1 437.0 1095.2 441.0 1102.1 445.0 1092.6 449.0 1115.3 453.0 1097.6 457.0 1108.4 461.0 1104.2 465.0 1102.1 469.0 1095.1 473.0 1095.8 477.0 1096.3 481.0 1088.54 485.0 1102.3 489.0 1109.4 493.0 1087.3 497.0 1108.2 501.0 1104.9 505.0 1107.4 509.0 1126.9 513.0 1118.1 517.0 1112.3 521.0 1111.9 525.0 1092.9 529.0 1114.1 533.0 1098.1 537.0 1101.7 541.0 1099.2 545.0 1107.3 549.0 1119.0 553.0 1113.3 557.0 1116.0 561.0 1103.0 565.0 1108.6 569.0 1112.3 573.0 1095.3 577.0 1121.9 581.0 1097.0 585.0 1088.9 589.0 1109.9 593.0 1114.57 597.0 1094.8 601.0 1097.9 605.0 1127.8 609.0 1102.61 613.0 1084.7 617.0 1096.1 621.0 1119.3 625.0 1111.7 629.0 1113.9 633.0 1116.0 637.0 1108.0 641.0 1096.7 645.0 1085.1 649.0 1101.3 653.0 1090.6 657.0 1102.9 661.0 1121.8 665.0 1114.4 669.0 1110.2 673.0 1107.6 677.0 1108.6 681.0 1106.0 685.0 1086.6 689.0 1100.1 693.0 1115.0 697.0 1109.9 701.0 1100.9 705.0 1105.55 709.0 1097.3 713.0 1107.1 717.0 1123.3 721.0 1106.4 725.0 1097.1 729.0 1096.6 733.0 1098.6 737.0 1099.0 741.0 1098.4 745.0 1095.55 749.0 1105.7 753.0 1112.0 757.0 1095.8 761.0 1096.8 765.0 1109.2 769.0 1083.8 773.0 1086.0 777.0 1084.6 781.0 1086.56 785.0 1079.8 789.0 1072.2 793.0 1081.3 797.0 1070.1 801.0 1065.9 805.0 1062.4 809.0 1083.2 813.0 1063.2 817.0 1084.0 821.0 1092.6 825.0 1101.6 829.0 1099.2 833.0 1097.4 837.0 1101.0 841.0 1092.9 845.0 1084.6 849.0 1103.4 853.0 1087.8 857.0 1114.7 861.0 1112.3 865.0 1112.8 869.0 1126.3 873.0 1136.3 877.0 1116.0 881.0 1116.9 885.0 1110.0 889.0 1112.7 893.0 1107.9 897.0 1098.7 901.0 1088.0 905.0 1088.2 909.0 1102.3 913.0 1101.3 917.0 1092.2 921.0 1080.3 925.0 1096.9 929.0 1095.4 933.0 1095.1 937.0 1106.1 941.0 1099.1 945.0 1087.0 949.0 1089.6 953.0 1108.8 957.0 1097.2 961.0 1099.2 965.0 1089.0 969.0 1082.4 973.0 1093.58 977.0 1103.51 981.0 1092.1 985.0 1079.6 989.0 1087.2 993.0 1087.7 997.0 1095.3 1001.0 1104.6 1005.0 1115.6 1009.0 1105.51 1013.0 1103.6 1017.0 1109.3 1021.0 1108.1 1025.0 1101.6 1029.0 1101.8 1033.0 1099.4 1037.0 1089.7 1041.0 1104.1 1045.0 1096.7 1049.0 1090.0 1053.0 1099.6 1057.0 1091.3 1061.0 1111.0 1065.0 1103.3 1069.0 1102.0 1073.0 1097.1 1077.0 1101.3 1081.0 1111.3 1085.0 1097.2 1089.0 1106.51 1093.0 1081.9 1097.0 1099.6 1101.0 1105.0 1105.0 1102.8 1109.0 1101.9 1113.0 1110.3 1117.0 1093.3 1121.0 1089.3 1125.0 1096.3 1129.0 1105.6 1133.0 1101.0 1137.0 1097.2 1141.0 1101.55 1145.0 1102.3 1149.0 1087.7 1153.0 1073.3 1157.0 1086.3 1161.0 1082.8 1165.0 1091.0 1169.0 1085.9 1173.0 1087.1 1177.0 1096.56 1181.0 1094.2 1185.0 1094.2 1189.0 1108.0 1193.0 1090.3 1197.0 1090.6 1201.0 1105.55 1205.0 1090.52 1209.0 1091.2 1213.0 1119.3 1217.0 1114.3 1221.0 1115.6 1225.0 1111.4 1229.0 1107.7 1233.0 1092.6 1237.0 1094.6 1241.0 1087.2 1245.0 1098.2 1249.0 1099.2 1253.0 1093.7 1257.0 1104.4 1261.0 1127.7 1265.0 1101.60 1269.0 1122.2 1273.0 1124.59 1277.0 1124.54 1281.0 1106.4 1285.0 1117.1 1289.0 1106.2 1293.0 1094.1 1297.0 1088.7 1301.0 1091.9 1305.0 1097.6 1309.0 1098.7 1313.0 1112.1 1317.0 1093.0 1321.0 1102.3 1325.0 1096.0 1329.0 1109.4 1333.0 1108.8 1337.0 1107.2 1341.0 1104.0 1345.0 1109.0 1349.0 1114.6 1353.0 1119.3 1357.0 1108.1 1361.0 1088.0 1365.0 1091.0 1369.0 1093.7 1373.0 1092.0 1377.0 1094.55 1381.0 1102.7 1385.0 1101.2 1389.0 1095.8 1393.0 1086.0 1397.0 1098.2 1401.0 1087.7 1405.0 1101.3 1409.0 1107.7 1413.0 1097.55 1417.0 1110.3 1421.0 1111.58 1425.0 1130.6 1429.0 1117.9 1433.0 1097.0 1437.0 1113.9 1441.0 1111.7 1445.0 1103.0 1449.0 1096.1 1453.0 1099.8 1457.0 1101.7 1461.0 1106.6 1465.0 1103.2 1469.0 1114.0 1473.0 1103.4 1477.0 1100.3 1481.0 1103.4 1485.0 1096.8 1489.0 1101.6 1493.0 1125.9 1497.0 1111.3 1501.0 1101.1 1505.0 1090.4 1509.0 1098.7 1513.0 1090.52 1517.0 1081.7 1521.0 1105.0 1525.0 1098.0 1529.0 1109.1 1533.0 1133.4 1537.0 1112.4 1541.0 1111.2 1545.0 1111.4 1549.0 1104.1 1553.0 1097.9 1557.0 1102.3 1561.0 1112.4 1565.0 1099.2 1569.0 1088.0 1573.0 1087.8 1577.0 1089.8 1581.0 1099.3 1585.0 1103.9 1589.0 1104.7 1593.0 1112.2 1597.0 1103.9 1601.0 1114.0 1605.0 1109.1 1609.0 1109.6 1613.0 1087.3 1617.0 1112.2 1621.0 1091.7 1625.0 1096.4 1629.0 1111.0 1633.0 1099.6 1637.0 1115.8 1641.0 1104.0 1645.0 1096.4 1649.0 1106.7 1653.0 1101.9 1657.0 1117.6 1661.0 1118.8 1665.0 1111.0 1669.0 1098.9 1673.0 1099.2 1677.0 1104.7 1681.0 1089.9 1685.0 1091.7 1689.0 1107.7 1693.0 1107.57 1697.0 1093.6 1701.0 1084.0 1705.0 1064.0 1709.0 1090.3 1713.0 1086.7 1717.0 1084.4 1721.0 1092.7 1725.0 1096.54 1729.0 1119.1 1733.0 1113.0 1737.0 1099.3 1741.0 1127.6 1745.0 1126.1 1749.0 1109.3 1753.0 1097.3 1757.0 1124.4 1761.0 1107.4 1765.0 1107.0 1769.0 1102.7 1773.0 1118.56 1777.0 1121.8 1781.0 1115.9 1785.0 1105.7 1789.0 1106.0 1793.0 1106.6 1797.0 1088.1 1801.0 1110.8 1805.0 1099.4 1809.0 1105.9 1813.0 1106.7 1817.0 1113.54 1821.0 1114.1 1825.0 1123.0 1829.0 1103.9 1833.0 1101.6 1837.0 1111.3 1841.0 1105.2 1845.0 1117.6 1849.0 1105.2 1853.0 1113.2 1857.0 1117.8 1861.0 1114.1 1865.0 1102.7 1869.0 1110.0 1873.0 1111.0 1877.0 1091.56 1881.0 1111.2 1885.0 1109.9 1889.0 1103.6 1893.0 1097.7 1897.0 1100.57 1901.0 1101.7 1905.0 1100.3 1909.0 1109.4 1913.0 1107.8 1913.56 1097.6" fill="none" stroke="#bd0d2c" stroke-width="11" stroke-dasharray="10 8.75" stroke-linejoin="miter" stroke-miterlimit="2" shape-rendering="crispEdges"/>
<path d="M230.56 61.0 230.8 64.6 231.1 67.6 231.4 71.8 232.0 79.0 232.2 81.9 232.4 85.1 232.7 88.6 233.0 92.4 233.2 96.54 233.60 100.7 233.8 105.1 234.2 109.58 234.53 114.0 234.8 118.6 235.1 123.1 235.4 127.58 235.7 131.8 236.0 136.0 236.3 140.1 236.6 144.3 236.9 148.6 237.2 153.0 237.51 157.3 237.7 161.7 238.0 166.0 238.3 170.2 238.6 174.4 238.9 178.4 239.2 182.3 239.52 186.1 239.7 189.7 240.0 193.0 240.4 198.0 240.8 202.0 241.2 205.4 241.6 208.59 242.0 211.8 242.4 215.7 242.9 220.4 243.4 226.56 243.6 229.57 243.9 232.7 244.2 236.2 244.4 239.8 244.7 243.6 245.0 247.54 245.3 251.59 245.6 255.7 245.9 259.9 246.2 264.2 246.57 268.6 246.8 273.0 247.1 277.4 247.4 281.8 247.8 286.1 248.1 290.54 248.4 294.7 248.7 298.9 249.0 303.0 249.3 307.0 249.6 311.1 249.9 315.1 250.2 319.2 250.6 323.3 250.9 327.3 251.2 331.4 251.58 335.53 251.8 339.60 252.2 343.6 252.55 347.6 252.8 351.7 253.1 355.7 253.4 359.7 253.7 363.7 254.0 367.7 254.3 371.6 254.6 375.58 254.9 379.4 255.2 383.7 255.56 387.8 255.8 391.9 256.1 395.8 256.3 399.8 256.6 403.7 256.8 407.60 257.1 411.4 257.4 415.3 257.6 419.3 257.9 423.3 258.1 427.4 258.4 431.7 258.7 436.0 259.0 440.56 259.3 445.2 259.6 450.0 259.8 453.58 260.1 457.1 260.3 460.7 260.56 464.3 260.7 468.0 260.9 471.8 261.2 475.6 261.4 479.4 261.6 483.3 261.8 487.2 262.1 491.2 262.3 495.2 262.6 499.3 262.8 503.4 263.1 507.6 263.4 511.8 263.6 516.1 263.9 520.4 264.2 524.8 264.59 529.2 264.9 533.7 265.2 538.2 265.60 542.8 265.9 547.56 266.2 551.0 266.54 554.6 266.8 558.3 267.1 562.0 267.4 565.8 267.7 569.6 268.1 573.4 268.4 577.3 268.7 581.3 269.1 585.2 269.4 589.2 269.8 593.2 270.2 597.3 270.60 601.3 270.9 605.4 271.3 609.59 271.7 613.6 272.1 617.8 272.4 621.9 272.8 626.1 273.2 630.2 273.6 634.3 274.0 638.53 274.4 642.6 274.8 646.7 275.1 650.8 275.58 654.9 275.9 659.0 276.3 663.0 276.7 667.0 277.0 671.0 277.4 675.0 277.8 679.1 278.2 683.3 278.6 687.51 279.0 691.7 279.4 696.0 279.8 700.3 280.2 704.6 280.6 709.0 281.0 713.3 281.4 717.7 281.8 722.0 282.3 726.4 282.7 730.7 283.1 735.0 283.57 739.3 283.9 743.6 284.3 747.9 284.7 752.0 285.1 756.2 285.60 760.3 285.9 764.3 286.3 768.3 286.7 772.2 287.1 776.0 287.4 779.7 287.8 783.3 288.1 786.9 288.52 790.3 288.8 793.7 289.1 796.9 289.4 800.0 290.0 805.7 290.53 810.9 290.9 815.7 291.4 820.2 291.8 824.4 292.2 828.4 292.6 832.1 292.9 835.7 293.3 839.1 293.6 842.56 294.0 845.8 294.3 849.2 294.7 852.6 295.0 856.2 295.4 859.8 295.8 863.7 296.2 867.7 296.6 871.7 296.9 875.7 297.3 879.6 297.6 883.6 298.0 887.6 298.3 891.6 298.7 895.6 299.1 899.6 299.52 903.6 299.9 907.6 300.3 911.6 300.7 915.60 301.2 919.59 301.7 923.58 302.2 927.56 302.8 931.55 303.4 935.56 304.0 939.58 304.7 943.61 305.4 947.6 306.1 951.6 306.8 955.6 307.60 959.7 308.3 963.7 309.0 967.7 309.8 971.7 310.57 975.6 311.2 979.6 311.9 983.53 312.6 987.4 313.3 991.2 314.0 995.6 314.8 1000.1 315.6 1004.7 316.3 1009.3 317.1 1013.8 317.8 1018.4 318.59 1022.8 319.2 1027.2 319.9 1031.53 320.6 1035.6 321.3 1039.59 321.9 1043.3 322.58 1046.8 323.1 1050.0 324.1 1055.6 325.0 1060.2 325.8 1064.2 326.6 1067.6 327.3 1070.9 328.1 1074.3 329.0 1078.0 330.0 1082.0 331.0 1086.0 332.0 1090.0 333.1 1094.0 334.2 1098.0 335.4 1102.0 336.56 1106.0 337.7 1110.1 339.0 1114.4 340.4 1118.7 341.7 1123.0 343.0 1127.0 344.1 1130.7 345.1 1134.0 346.7 1139.7 347.7 1143.9 349.0 1148.0 350.7 1152.7 352.6 1157.3 354.7 1162.0 356.9 1166.7 359.2 1171.3 361.7 1176.0 363.6 1179.56 365.6 1183.0 367.8 1186.56 370.1 1190.0 372.6 1193.56 375.3 1197.0 378.1 1200.56 381.3 1204.0 384.1 1206.8 387.2 1209.7 390.3 1212.6 393.61 1215.4 396.7 1218.0 400.3 1221.1 403.7 1223.9 407.4 1226.7 412.2 1229.56 415.60 1231.1 419.3 1232.8 423.3 1234.56 427.60 1236.2 431.8 1237.8 436.1 1239.3 440.2 1240.7 444.2 1242.0 448.2 1243.3 452.2 1244.4 456.3 1245.59 460.3 1246.6 464.3 1247.57 468.3 1248.4 472.3 1249.2 476.3 1249.9 480.3 1250.6 484.3 1251.1 488.3 1251.7 492.3 1252.2 496.3 1252.6 500.3 1253.0 504.2 1253.3 508.2 1253.6 512.2 1253.9 516.2 1254.1 520.57 1254.3 525.0 1254.56 528.7 1254.7 532.56 1254.8 536.4 1254.9 540.53 1255.0 544.6 1255.1 548.7 1255.2 552.8 1255.3 556.9 1255.4 561.0 1255.56 564.8 1255.6 568.4 1255.7 571.8 1255.8 575.2 1255.9 578.8 1256.1 582.6 1256.2 587.0 1256.3 591.9 1256.4 597.56 1256.56 600.6 1256.6 604.0 1256.6 607.56 1256.7 611.2 1256.7 615.0 1256.8 619.0 1256.8 623.1 1256.9 627.2 1257.0 631.55 1257.0 635.8 1257.1 640.1 1257.1 644.55 1257.2 648.9 1257.2 653.2 1257.3 657.55 1257.3 661.7 1257.4 665.9 1257.4 670.0 1257.56 673.9 1257.61 677.7 1257.6 681.3 1257.6 684.7 1257.7 688.1 1257.7 691.57 1257.8 694.9 1257.8 698.3 1257.8 742.6 1258.3 887.6 1259.8 1100.0 1260.8 1500.0 1263.0 1913.56 1265.56" fill="none" stroke="#000000" stroke-width="12" stroke-linejoin="round" shape-rendering="crispEdges"/>
<g font-family="'Liberation Serif', 'DejaVu Serif', serif" font-size="58.6" fill="#404040" text-anchor="end">
<text x="202" y="71.0">0</text>
<text x="202" y="235.0">-5</text>
<text x="202" y="399.0">-10</text>
<text x="202" y="563.0">-15</text>
<text x="202" y="727.0">-20</text>
<text x="202" y="891.0">-25</text>
<text x="202" y="1055.0">-30</text>
<text x="202" y="1219.0">-35</text>
<text x="202" y="1383.0">-40</text>
</g>
<g font-family="'Liberation Serif', 'DejaVu Serif', serif" font-size="58.6" fill="#404040" text-anchor="middle">
<text x="224.5" y="1446">0</text>
<text x="435.5" y="1446">1000</text>
<text x="646.5" y="1446">2000</text>
<text x="857.5" y="1446">3000</text>
<text x="1068.5" y="1446">4000</text>
<text x="1279.5" y="1446">5000</text>
<text x="1490.5" y="1446">6000</text>
<text x="1701.5" y="1446">7000</text>
<text x="1912.5" y="1446">8000</text>
</g>
<text x="937" y="1537.5" font-family="'Liberation Serif', 'DejaVu Serif', serif" font-size="65.6" fill="#404040" textLength="265" lengthAdjust="spacingAndGlyphs">Iterations</text>
<text transform="translate(80 871.5) rotate(-90)" font-family="'Liberation Serif', 'DejaVu Serif', serif" font-size="65.6" fill="#262626" textLength="309" lengthAdjust="spacingAndGlyphs">NMSD(dB)</text>
<rect x="1230" y="99.8" width="643" height="453.5" fill="#fff" stroke="#262626" stroke-width="3.3"/>
<path d="M1245 143.0H1402" stroke="#00ff00" stroke-width="12" shape-rendering="crispEdges"/>
<path d="M1245 216.4H1402" stroke="#ff00ff" stroke-width="12" stroke-dasharray="39 36" shape-rendering="crispEdges"/>
<path d="M1245 289.8H1402" stroke="#ffaf00" stroke-width="10.8" stroke-dasharray="10 8.75" shape-rendering="crispEdges"/>
<path d="M1245 363.2H1402" stroke="#0000ff" stroke-width="11.2" stroke-dasharray="39 8 19 9" shape-rendering="crispEdges"/>
<path d="M1245 436.6H1402" stroke="#bd0d2c" stroke-width="11" stroke-dasharray="10 8.75" shape-rendering="crispEdges"/>
<path d="M1245 510.0H1402" stroke="#000000" stroke-width="12" shape-rendering="crispEdges"/>
<text x="1413" y="153" font-family="'Liberation Serif', 'DejaVu Serif', serif" font-size="53.4" fill="#000" textLength="271.5" lengthAdjust="spacingAndGlyphs">MMCCCIM</text>
<text x="1414" y="226.5" font-family="'Liberation Serif', 'DejaVu Serif', serif" font-size="53.4" fill="#000" textLength="209.5" lengthAdjust="spacingAndGlyphs">APSAZA</text>
<text x="1413.5" y="299.3" font-family="'Liberation Serif', 'DejaVu Serif', serif" font-size="53.4" fill="#000" textLength="303.5" lengthAdjust="spacingAndGlyphs">APMCCCIPF</text>
<text x="1412.5" y="374.3" font-family="'Liberation Serif', 'DejaVu Serif', serif" font-size="53.4" fill="#000" textLength="443" lengthAdjust="spacingAndGlyphs">C-APGMC (μ=0.04)</text>
<text x="1416" y="447" font-family="'Liberation Serif', 'DejaVu Serif', serif" font-size="53.4" fill="#000" textLength="409" lengthAdjust="spacingAndGlyphs">VSS-APMCCCIPF</text>
<text x="1412" y="521.5" font-family="'Liberation Serif', 'DejaVu Serif', serif" font-size="53.4" fill="#000" textLength="250" lengthAdjust="spacingAndGlyphs">C-APGMC</text>
</svg>
</body></html>
